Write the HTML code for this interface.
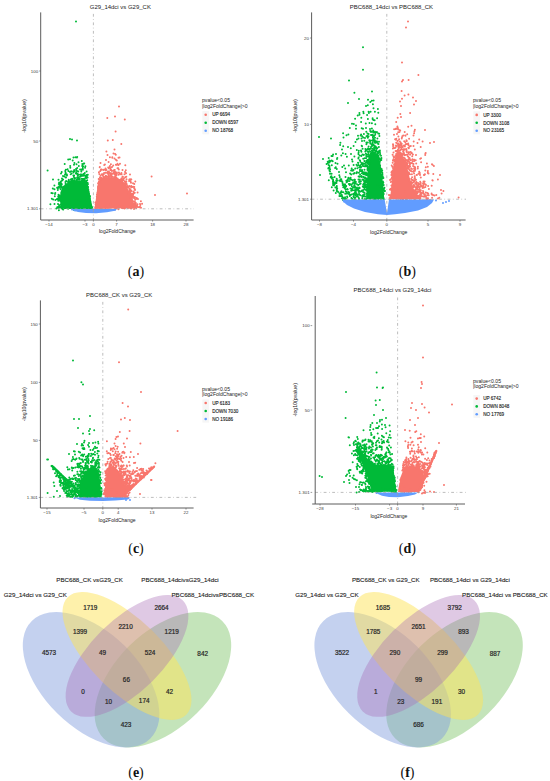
<!DOCTYPE html><html><head><meta charset="utf-8"><style>html,body{margin:0;padding:0;background:#fff;}svg{display:block;}</style></head><body>
<svg width="550" height="781" viewBox="0 0 550 781" font-family="Liberation Sans, sans-serif">
<rect width="550" height="781" fill="#fff"/>
<path d="M61.0 209.0L92.9 209.0L91.0 200.0L89.5 192.0L88.0 185.0L86.0 181.0L80.0 182.0L74.0 181.0L68.0 183.0L63.0 186.0L60.5 192.0L60.0 200.0Z" fill="#00BA38"/>
<path d="M62.9 187.9h0M87.0 200.3h0M76.0 200.3h0M76.2 181.1h0M66.0 184.0h0M86.5 182.4h0M81.6 182.6h0M86.2 199.9h0M81.2 182.0h0M88.3 189.5h0M60.7 196.8h0M60.6 189.1h0M59.2 198.4h0M81.9 181.5h0M62.4 187.2h0M75.5 200.2h0M87.7 183.0h0M88.9 193.5h0M79.1 199.8h0M76.4 199.7h0M60.6 197.5h0M68.9 183.1h0M61.5 199.0h0M80.4 200.5h0M69.1 199.2h0M72.7 181.9h0M87.9 184.3h0M83.0 180.0h0M60.1 197.1h0M59.5 200.6h0M60.6 198.9h0M60.6 189.2h0M83.9 180.9h0M82.6 182.1h0M60.3 200.5h0M82.0 176.0h0M57.8 190.0h0M84.2 163.5h0M80.3 176.4h0M71.5 180.1h0M62.0 178.4h0M57.1 187.7h0M59.1 182.4h0M61.6 186.3h0M60.5 183.8h0M87.6 177.6h0M77.5 173.8h0M65.6 172.5h0M74.4 171.0h0M82.2 166.0h0M61.7 187.4h0M72.0 208.2h0M81.5 175.8h0M79.4 182.9h0M87.4 183.8h0M61.7 172.0h0M78.5 162.2h0M68.2 159.4h0M63.0 176.0h0M83.2 180.2h0M54.5 203.9h0M78.2 182.2h0M51.4 193.1h0M61.2 201.5h0M77.1 209.4h0M78.4 178.1h0M58.2 207.9h0M75.0 209.5h0M82.9 169.7h0M77.4 179.2h0M72.5 179.1h0M61.2 199.1h0M65.8 169.8h0M77.2 168.0h0M66.0 177.5h0M79.6 178.3h0M68.2 181.4h0M85.9 175.6h0M57.5 187.5h0M76.8 180.9h0M60.0 207.8h0M77.9 178.0h0M66.1 181.1h0M61.0 186.0h0M78.3 171.6h0M61.3 207.1h0M81.3 171.6h0M58.4 198.0h0M73.4 180.9h0M66.9 174.4h0M56.3 208.6h0M67.8 207.8h0M74.4 162.9h0M53.2 199.5h0M74.1 175.4h0M54.5 189.3h0M68.0 183.0h0M83.4 179.8h0M74.0 210.0h0M81.4 182.3h0M81.8 161.1h0M60.9 181.6h0M89.4 210.1h0M90.2 201.5h0M89.6 198.6h0M65.2 171.1h0M84.3 174.9h0M82.9 167.0h0M81.5 169.5h0M82.3 163.9h0M68.6 180.7h0M71.4 207.8h0M76.4 170.4h0M50.4 204.3h0M86.6 171.5h0M84.8 180.8h0M71.6 178.9h0M58.8 184.1h0M86.4 181.8h0M77.8 175.3h0M58.3 200.8h0M72.7 160.5h0M81.9 181.1h0M84.8 178.8h0M73.5 172.5h0M82.2 179.7h0M86.8 175.1h0M61.0 197.0h0M59.3 187.5h0M74.4 180.2h0M68.4 171.1h0M58.2 196.4h0M58.5 179.8h0M65.4 174.3h0M77.6 177.6h0M84.2 207.9h0M61.8 184.2h0M81.7 178.8h0M70.7 174.2h0M87.0 186.6h0M69.0 182.5h0M78.5 181.5h0M84.0 209.1h0M81.0 181.4h0M61.0 206.4h0M63.1 179.5h0M85.1 167.8h0M69.0 181.0h0M83.2 166.5h0M61.0 173.6h0M85.4 166.3h0M78.1 176.9h0M66.3 181.2h0M57.2 207.3h0M84.0 179.5h0M70.3 167.7h0M71.6 173.5h0M54.4 185.5h0M82.0 182.3h0M67.6 169.3h0M61.7 183.9h0M82.7 179.1h0M55.4 200.1h0M78.3 208.8h0M65.4 182.0h0M58.5 194.8h0M70.0 159.2h0M75.9 173.4h0M78.8 174.8h0M79.8 179.7h0M88.2 208.0h0M59.1 205.2h0M58.4 206.7h0M65.5 184.1h0M75.9 208.7h0M87.2 180.2h0M76.2 172.5h0M61.6 192.9h0M72.3 181.8h0M84.2 178.7h0M84.8 172.9h0M83.1 207.8h0M65.0 174.7h0M83.4 179.1h0M70.5 181.4h0M76.3 169.1h0M65.6 173.6h0M62.4 179.3h0M76.4 179.6h0M60.0 195.4h0M83.9 175.5h0M70.2 165.9h0M75.0 178.0h0M74.5 171.3h0M79.9 181.8h0M71.1 171.3h0M67.0 175.4h0M77.1 177.6h0M83.1 174.8h0M64.3 176.4h0M58.0 204.1h0M70.9 179.3h0M74.2 169.9h0M86.6 180.7h0M74.3 180.4h0M59.1 206.5h0M57.8 188.6h0M74.0 164.7h0M61.3 187.4h0M81.2 174.6h0M58.9 210.3h0M80.6 174.6h0M86.6 178.1h0M77.8 171.2h0M84.9 178.9h0M85.8 175.8h0M60.6 204.6h0M60.6 185.6h0M68.8 179.7h0M86.7 175.9h0M69.9 183.1h0M83.4 174.0h0M73.4 175.4h0M65.8 185.4h0M72.1 178.7h0M89.9 195.9h0M82.8 168.5h0M87.8 174.7h0M55.3 193.0h0M76.5 164.2h0M83.9 163.4h0M82.6 165.0h0M59.3 196.2h0M52.7 193.3h0M54.8 196.3h0M51.8 198.8h0M88.4 191.6h0M71.0 180.9h0M87.2 187.1h0M70.0 172.0h0M60.8 182.4h0M64.7 163.9h0M66.4 184.4h0M62.5 209.2h0M65.8 177.4h0M68.1 208.8h0M78.2 179.5h0M72.5 179.7h0M80.1 169.6h0M88.1 187.0h0M73.9 176.9h0M77.8 209.8h0M77.4 174.6h0M72.4 207.9h0M70.1 182.5h0M59.8 186.7h0M78.5 177.1h0M74.4 182.4h0M83.8 175.7h0M57.9 199.6h0M86.5 182.9h0M62.9 187.4h0M74.5 178.3h0M84.1 181.5h0M62.1 180.4h0M68.0 207.8h0M92.2 207.2h0M73.1 171.4h0M78.8 166.0h0M82.2 182.3h0M77.2 157.1h0M85.5 176.9h0M59.5 184.6h0M90.0 196.4h0M76.0 169.0h0M75.8 181.6h0M76.0 21.6h0M70.0 139.0h0M72.0 139.5h0M77.0 140.5h0M73.5 157.4h0M75.5 157.2h0M77.0 157.6h0M47.6 170.6h0M53.0 179.4h0M52.8 188.6h0M59.0 186.6h0M59.3 206.6h0M63.3 209.6h0M55.0 194.0h0M57.0 199.0h0" stroke="#00BA38" stroke-width="2.0" stroke-linecap="round" fill="none"/>
<path d="M94.5 209.0L137.0 208.0L134.0 204.0L131.5 198.0L129.0 191.0L126.0 185.0L122.0 180.0L116.0 177.5L108.0 177.0L101.0 178.0L98.0 182.0L97.0 190.0L96.0 198.0L95.2 204.0Z" fill="#F8766D"/>
<path d="M105.8 177.1h0M97.1 202.4h0M125.9 183.8h0M116.0 177.4h0M97.4 205.0h0M98.0 187.9h0M98.1 183.2h0M106.0 177.3h0M124.0 205.9h0M116.1 207.8h0M97.0 194.5h0M98.6 183.2h0M132.1 201.4h0M105.5 205.0h0M121.8 206.5h0M95.7 202.5h0M134.1 207.3h0M121.7 181.1h0M130.7 198.4h0M121.9 207.9h0M130.4 194.3h0M119.1 205.2h0M130.5 196.1h0M132.5 203.2h0M104.8 205.5h0M135.5 207.6h0M119.7 206.2h0M133.7 204.0h0M104.0 177.2h0M95.4 202.5h0M113.5 205.9h0M116.3 178.2h0M112.6 206.9h0M110.5 204.5h0M122.5 180.9h0M131.5 195.4h0M100.5 163.0h0M99.9 177.2h0M142.1 203.8h0M103.3 170.1h0M108.4 174.7h0M116.6 174.9h0M121.3 173.2h0M132.7 202.6h0M103.7 174.6h0M133.2 186.8h0M131.3 179.5h0M97.5 195.2h0M111.9 171.0h0M102.6 174.2h0M105.1 207.5h0M125.0 182.4h0M119.2 173.5h0M118.8 169.6h0M114.3 207.4h0M140.3 205.0h0M131.0 208.6h0M134.8 203.8h0M108.3 172.2h0M134.0 209.0h0M101.4 208.2h0M98.9 172.3h0M100.6 175.5h0M123.5 183.8h0M111.2 173.2h0M130.2 192.8h0M118.9 172.5h0M134.7 192.8h0M98.1 186.5h0M95.6 204.5h0M114.5 171.4h0M115.2 207.8h0M114.8 170.1h0M130.1 191.6h0M128.9 192.3h0M130.4 180.1h0M131.0 179.2h0M99.0 181.3h0M133.1 201.3h0M128.0 208.0h0M138.0 199.1h0M98.7 179.1h0M101.9 174.2h0M106.4 169.9h0M115.9 164.7h0M99.9 178.9h0M108.4 176.8h0M124.9 181.3h0M133.8 204.9h0M125.9 181.9h0M110.3 170.0h0M130.4 196.2h0M99.7 167.2h0M100.3 170.9h0M132.0 199.7h0M127.4 187.4h0M114.6 171.5h0M133.4 203.5h0M111.4 175.0h0M131.0 195.4h0M128.4 187.3h0M130.8 181.9h0M108.6 172.2h0M121.4 173.0h0M111.3 209.7h0M129.3 191.6h0M108.7 168.2h0M126.1 173.2h0M127.3 185.9h0M108.9 171.8h0M130.5 189.5h0M122.9 176.8h0M134.5 204.5h0M136.3 208.1h0M134.3 187.0h0M132.8 204.2h0M105.2 176.8h0M101.0 169.5h0M109.9 166.1h0M101.4 177.7h0M126.3 181.6h0M115.6 172.2h0M105.5 208.6h0M109.9 157.2h0M130.3 196.5h0M117.4 207.5h0M129.5 188.8h0M134.1 205.2h0M108.9 174.1h0M112.6 176.7h0M134.3 184.1h0M118.2 168.3h0M108.2 167.6h0M114.5 170.1h0M132.0 194.8h0M134.5 204.3h0M135.7 203.4h0M113.4 170.4h0M131.9 208.1h0M117.1 178.8h0M135.3 199.4h0M109.8 209.5h0M133.4 191.5h0M126.5 179.3h0M116.9 173.6h0M121.8 180.2h0M107.7 171.7h0M99.3 174.0h0M95.5 206.9h0M96.8 196.8h0M115.7 178.3h0M124.9 183.6h0M131.6 187.3h0M128.6 186.7h0M106.7 176.2h0M134.6 206.3h0M105.9 169.4h0M110.6 175.6h0M134.7 201.3h0M130.7 186.8h0M126.3 207.1h0M122.4 207.2h0M118.7 174.7h0M127.4 207.0h0M131.8 198.9h0M115.8 174.4h0M127.8 186.3h0M122.5 170.0h0M98.2 187.6h0M130.7 207.2h0M134.9 189.3h0M105.4 170.1h0M134.7 203.1h0M134.8 197.0h0M110.9 164.2h0M136.5 205.6h0M113.8 171.0h0M129.0 192.5h0M128.4 186.4h0M105.9 175.8h0M129.1 180.9h0M129.9 207.2h0M132.8 197.5h0M129.4 186.1h0M139.4 206.9h0M137.6 192.6h0M122.5 176.8h0M126.8 185.0h0M131.4 193.7h0M140.9 201.3h0M114.3 177.2h0M103.4 176.7h0M111.5 176.6h0M105.7 209.1h0M114.1 172.0h0M108.0 207.9h0M102.8 175.5h0M104.1 173.0h0M109.7 172.5h0M134.2 188.6h0M125.2 177.3h0M127.1 187.3h0M116.9 164.8h0M130.3 197.2h0M132.3 187.1h0M126.4 183.4h0M131.3 186.1h0M121.1 179.8h0M115.6 176.3h0M119.5 157.6h0M113.2 165.6h0M133.7 193.0h0M124.5 208.6h0M109.8 166.6h0M137.5 204.3h0M136.4 198.0h0M100.2 208.4h0M120.7 179.7h0M96.1 204.7h0M130.7 196.8h0M126.3 187.2h0M107.6 173.3h0M100.8 179.7h0M129.3 179.4h0M122.5 179.3h0M103.8 169.8h0M136.4 206.1h0M109.0 178.2h0M110.2 175.8h0M112.5 173.8h0M99.4 181.9h0M104.2 165.0h0M131.7 198.9h0M110.4 168.0h0M135.8 205.3h0M121.6 174.3h0M123.9 208.0h0M103.5 209.4h0M122.5 179.5h0M118.5 165.1h0M116.9 172.6h0M105.5 168.4h0M125.6 184.7h0M135.7 202.8h0M121.8 178.3h0M115.4 176.1h0M122.7 208.1h0M108.5 171.4h0M123.9 178.4h0M105.6 172.7h0M111.3 177.6h0M103.2 178.5h0M133.0 183.3h0M136.9 198.8h0M101.6 169.5h0M115.2 153.9h0M95.3 207.7h0M115.9 159.8h0M137.1 206.1h0M141.0 207.7h0M105.9 172.7h0M112.3 157.2h0M129.5 180.8h0M115.0 209.6h0M101.7 207.8h0M130.0 174.6h0M120.7 174.3h0M126.3 176.8h0M133.1 193.8h0M136.1 205.2h0M125.3 165.3h0M123.4 180.0h0M116.1 175.6h0M118.5 157.8h0M121.3 178.6h0M123.9 184.0h0M105.9 169.2h0M131.4 191.1h0M115.9 177.5h0M100.8 170.3h0M117.4 178.5h0M114.7 174.5h0M128.7 193.8h0M135.3 181.4h0M133.2 194.5h0M129.9 179.3h0M129.5 189.4h0M118.4 209.2h0M131.8 197.7h0M97.6 192.8h0M129.3 188.8h0M124.5 174.2h0M134.2 198.2h0M112.2 176.6h0M134.2 193.0h0M109.6 176.2h0M121.7 181.3h0M104.9 164.5h0M110.4 173.8h0M113.5 173.1h0M103.4 178.2h0M99.8 166.9h0M138.0 207.1h0M124.5 208.4h0M133.1 195.9h0M135.8 206.0h0M130.9 199.1h0M129.6 207.7h0M133.1 196.3h0M131.0 182.8h0M113.7 173.5h0M132.0 193.8h0M133.9 207.4h0M129.4 190.6h0M133.9 192.2h0M125.1 208.0h0M104.0 178.0h0M111.0 169.4h0M140.0 206.9h0M116.2 208.2h0M115.0 173.5h0M134.2 192.9h0M126.6 184.1h0M137.3 198.6h0M119.0 106.4h0M107.3 117.9h0M115.0 116.4h0M124.8 119.4h0M115.6 131.6h0M107.8 140.6h0M112.8 140.0h0M121.3 144.1h0M114.5 149.6h0M106.4 151.5h0M107.5 155.0h0M113.5 153.6h0M115.8 154.8h0M112.3 157.7h0M114.5 158.5h0M106.0 160.0h0M116.8 160.6h0M120.0 163.7h0M117.5 163.8h0M108.6 162.0h0M112.0 167.0h0M117.5 168.2h0M125.8 170.2h0M125.0 172.0h0M151.6 176.5h0M155.0 195.0h0M187.0 193.4h0M135.0 190.0h0M138.0 199.0h0M140.0 204.0h0" stroke="#F8766D" stroke-width="2.0" stroke-linecap="round" fill="none"/>
<path d="M71.0 209.0L117.0 209.0L115.0 210.8L107.0 212.3L96.0 213.2L86.0 213.0L78.0 212.0L73.0 210.6Z" fill="#619CFF"/>
<path d="M72.0 209.6h0M75.0 210.5h0M115.0 209.8h0" stroke="#619CFF" stroke-width="2.0" stroke-linecap="round" fill="none"/>
<line x1="93.4" y1="13.9" x2="93.4" y2="220" stroke="#a0a0a0" stroke-width="0.7" stroke-dasharray="2.8 2.5 0.7 2.5"/>
<line x1="40.7" y1="208.8" x2="194" y2="208.8" stroke="#a0a0a0" stroke-width="0.7" stroke-dasharray="2.8 2.5 0.7 2.5"/>
<path d="M40.7 12.4V220H193.6" stroke="#5c5c5c" stroke-width="1" fill="none"/>
<line x1="39.1" y1="71" x2="40.7" y2="71" stroke="#555" stroke-width="0.6"/>
<text x="38.10" y="72.60" font-size="4.4" text-anchor="end" fill="#3a3a3a">100</text>
<line x1="39.1" y1="141" x2="40.7" y2="141" stroke="#555" stroke-width="0.6"/>
<text x="38.10" y="142.60" font-size="4.4" text-anchor="end" fill="#3a3a3a">50</text>
<line x1="39.1" y1="208.8" x2="40.7" y2="208.8" stroke="#555" stroke-width="0.6"/>
<text x="38.10" y="210.40" font-size="4.4" text-anchor="end" fill="#3a3a3a">1.301</text>
<line x1="49" y1="220" x2="49" y2="221.6" stroke="#555" stroke-width="0.6"/>
<text x="49.00" y="225.60" font-size="4.4" text-anchor="middle" fill="#3a3a3a">−14</text>
<line x1="85" y1="220" x2="85" y2="221.6" stroke="#555" stroke-width="0.6"/>
<text x="85.00" y="225.60" font-size="4.4" text-anchor="middle" fill="#3a3a3a">−3</text>
<line x1="93.4" y1="220" x2="93.4" y2="221.6" stroke="#555" stroke-width="0.6"/>
<text x="93.40" y="225.60" font-size="4.4" text-anchor="middle" fill="#3a3a3a">0</text>
<line x1="116.6" y1="220" x2="116.6" y2="221.6" stroke="#555" stroke-width="0.6"/>
<text x="116.60" y="225.60" font-size="4.4" text-anchor="middle" fill="#3a3a3a">7</text>
<line x1="152.6" y1="220" x2="152.6" y2="221.6" stroke="#555" stroke-width="0.6"/>
<text x="152.60" y="225.60" font-size="4.4" text-anchor="middle" fill="#3a3a3a">18</text>
<line x1="186" y1="220" x2="186" y2="221.6" stroke="#555" stroke-width="0.6"/>
<text x="186.00" y="225.60" font-size="4.4" text-anchor="middle" fill="#3a3a3a">28</text>
<text x="89.80" y="8.90" font-size="6.2" text-anchor="start" fill="#1a1a1a" textLength="61.10" lengthAdjust="spacingAndGlyphs">G29_14dci vs G29_CK</text>
<text x="99.00" y="233.40" font-size="5.2" text-anchor="start" fill="#1a1a1a" textLength="36.60" lengthAdjust="spacingAndGlyphs">log2FoldChange</text>
<text x="25.80" y="132.70" font-size="5.2" text-anchor="start" fill="#1a1a1a" textLength="33.50" lengthAdjust="spacingAndGlyphs" transform="rotate(-90 25.80 132.70)">-log10(pvalue)</text>
<text x="202.00" y="102.20" font-size="5.0" text-anchor="start" fill="#1a1a1a" textLength="28.00" lengthAdjust="spacingAndGlyphs">pvalue&lt;0.05</text>
<text x="202.00" y="107.80" font-size="5.0" text-anchor="start" fill="#1a1a1a" textLength="45.60" lengthAdjust="spacingAndGlyphs">|log2FoldChange|&gt;0</text>
<rect x="202.4" y="111.10000000000001" width="6.6" height="23.199999999999985" fill="#f6f6f6"/>
<circle cx="205.7" cy="114.7" r="1.3" fill="#F8766D"/>
<text x="212.20" y="116.40" font-size="4.6" text-anchor="start" fill="#1a1a1a" textLength="17.82" lengthAdjust="spacingAndGlyphs" stroke="#1a1a1a" stroke-width="0.12">UP 6694</text>
<circle cx="205.7" cy="122.7" r="1.3" fill="#00BA38"/>
<text x="212.20" y="124.40" font-size="4.6" text-anchor="start" fill="#1a1a1a" textLength="26.07" lengthAdjust="spacingAndGlyphs" stroke="#1a1a1a" stroke-width="0.12">DOWN 6597</text>
<circle cx="205.7" cy="130.7" r="1.3" fill="#619CFF"/>
<text x="212.20" y="132.40" font-size="4.6" text-anchor="start" fill="#1a1a1a" textLength="20.97" lengthAdjust="spacingAndGlyphs" stroke="#1a1a1a" stroke-width="0.12">NO 18768</text>
<path d="M366.0 199.2L384.3 199.2L383.0 185.0L381.5 172.0L380.0 162.0L378.0 155.0L374.0 152.0L370.0 156.0L368.0 168.0L367.0 185.0Z" fill="#00BA38"/>
<path d="M379.7 162.3h0M383.4 177.9h0M381.6 169.1h0M368.5 171.2h0M372.1 153.6h0M368.3 168.9h0M374.7 153.6h0M369.7 159.2h0M379.4 159.3h0M366.4 173.5h0M380.9 168.5h0M370.1 185.2h0M370.0 158.6h0M372.5 154.9h0M367.5 184.6h0M378.2 157.1h0M382.8 177.1h0M371.3 155.6h0M376.5 155.0h0M367.1 180.3h0M381.1 170.2h0M383.3 182.5h0M369.9 155.3h0M370.7 158.3h0M368.9 164.3h0M379.3 186.2h0M369.2 162.5h0M377.3 184.9h0M379.2 159.0h0M382.7 176.3h0M372.9 153.7h0M374.9 153.0h0M382.6 183.9h0M371.6 152.7h0M379.9 161.2h0M368.5 180.5h0M370.5 155.0h0M372.1 184.9h0M382.2 185.5h0M363.0 165.9h0M362.0 146.2h0M358.5 190.9h0M342.4 182.0h0M340.4 142.7h0M364.3 140.8h0M346.8 182.2h0M361.0 167.6h0M367.5 133.5h0M348.7 178.3h0M359.8 160.3h0M364.9 189.6h0M383.6 193.6h0M356.6 193.4h0M366.5 174.5h0M355.1 118.7h0M370.2 151.6h0M379.3 163.8h0M373.5 132.4h0M368.9 149.4h0M370.8 140.4h0M367.9 166.7h0M354.7 199.8h0M379.9 159.3h0M374.1 147.4h0M345.9 198.8h0M366.2 180.3h0M370.0 198.0h0M379.9 150.5h0M361.6 176.6h0M361.7 128.3h0M357.1 196.0h0M350.8 148.3h0M382.4 174.6h0M364.5 169.7h0M335.5 163.1h0M375.6 154.2h0M365.2 184.3h0M372.9 137.8h0M377.1 118.3h0M351.1 184.5h0M368.5 161.5h0M375.0 131.7h0M367.1 115.0h0M381.4 158.2h0M365.4 149.1h0M358.3 185.0h0M354.7 173.0h0M372.7 143.4h0M353.8 123.9h0M377.3 148.3h0M365.6 177.8h0M365.4 164.9h0M378.5 143.9h0M358.2 162.9h0M366.5 162.8h0M334.6 177.1h0M374.5 140.3h0M336.5 182.9h0M358.4 158.6h0M343.5 137.5h0M367.3 159.9h0M359.4 191.1h0M379.3 163.6h0M366.4 144.3h0M359.9 183.9h0M364.5 187.8h0M376.5 141.5h0M365.7 189.5h0M373.6 199.3h0M380.1 153.9h0M345.2 193.8h0M362.4 179.4h0M382.4 197.9h0M363.1 195.0h0M356.4 189.9h0M353.9 197.3h0M368.4 153.9h0M374.9 199.5h0M342.3 166.9h0M367.5 183.7h0M366.3 154.4h0M381.0 155.8h0M360.0 169.6h0M367.5 170.0h0M356.8 150.0h0M361.2 164.5h0M363.9 154.8h0M377.4 157.3h0M367.6 178.8h0M365.2 173.5h0M371.9 128.5h0M383.3 197.5h0M366.4 190.6h0M382.8 188.6h0M368.8 163.2h0M365.6 187.0h0M371.6 144.5h0M372.7 134.8h0M366.0 172.4h0M365.3 184.2h0M372.3 154.2h0M373.3 144.7h0M378.0 198.6h0M380.9 177.8h0M361.3 117.7h0M364.5 200.2h0M354.9 179.8h0M362.9 171.9h0M364.8 163.5h0M363.7 179.6h0M363.6 184.1h0M358.9 172.8h0M376.0 142.7h0M361.2 151.4h0M357.7 115.5h0M359.5 114.8h0M342.7 184.9h0M382.2 172.5h0M379.0 141.8h0M358.6 197.5h0M368.0 148.5h0M370.2 131.1h0M332.7 161.2h0M366.0 172.6h0M343.2 146.2h0M361.1 164.4h0M358.6 176.6h0M374.4 148.7h0M352.6 183.8h0M357.2 165.8h0M366.8 187.2h0M370.3 101.9h0M365.1 186.3h0M366.9 180.3h0M372.1 148.7h0M363.8 183.7h0M355.6 194.2h0M354.7 185.9h0M383.7 185.1h0M380.1 165.5h0M332.6 156.0h0M356.2 188.1h0M353.2 193.9h0M373.6 140.2h0M359.1 182.1h0M377.5 155.3h0M364.4 184.1h0M355.2 168.4h0M365.7 185.9h0M349.8 183.9h0M381.4 158.0h0M354.3 187.8h0M381.1 159.8h0M366.9 175.3h0M358.6 191.2h0M355.8 183.6h0M372.8 145.5h0M352.0 189.4h0M354.3 179.7h0M364.5 166.2h0M353.5 170.1h0M333.1 179.8h0M359.0 198.4h0M362.1 170.8h0M353.7 194.8h0M362.5 164.6h0M337.6 180.6h0M363.8 174.1h0M355.8 191.7h0M367.8 137.7h0M379.3 158.3h0M360.9 181.2h0M345.6 154.1h0M362.3 195.7h0M348.4 134.4h0M345.9 191.4h0M372.5 142.7h0M355.7 181.8h0M333.6 190.6h0M355.5 142.0h0M351.1 170.5h0M379.7 167.7h0M342.9 153.2h0M365.8 166.3h0M372.2 151.3h0M364.5 194.8h0M359.5 181.4h0M369.6 159.2h0M369.3 158.2h0M380.4 170.7h0M358.8 150.7h0M343.0 197.4h0M371.6 146.5h0M378.7 162.3h0M383.9 190.9h0M374.2 132.6h0M384.1 188.8h0M366.9 186.8h0M352.0 159.4h0M379.1 162.5h0M355.0 198.3h0M382.9 181.5h0M359.6 155.4h0M347.6 180.8h0M358.3 189.4h0M333.0 185.0h0M362.3 198.6h0M370.2 161.7h0M373.6 150.0h0M367.9 118.9h0M360.1 160.7h0M367.7 151.7h0M382.4 172.9h0M330.1 169.2h0M362.8 196.2h0M368.4 173.0h0M367.7 182.3h0M363.3 137.4h0M366.4 142.5h0M368.9 113.1h0M383.0 195.3h0M361.2 166.9h0M376.6 147.5h0M373.1 139.8h0M330.4 161.2h0M365.6 184.3h0M354.9 194.7h0M356.4 193.2h0M346.8 192.0h0M373.3 151.9h0M341.5 191.3h0M362.9 164.4h0M366.5 193.7h0M337.3 157.9h0M371.4 131.6h0M354.9 186.4h0M364.7 158.2h0M354.1 182.6h0M355.1 187.1h0M378.7 157.8h0M358.4 153.9h0M374.9 141.3h0M383.0 189.0h0M379.4 136.0h0M348.4 177.8h0M367.1 187.8h0M365.0 186.6h0M368.2 137.0h0M376.2 150.4h0M351.9 186.2h0M359.4 176.8h0M378.4 151.3h0M353.1 187.5h0M361.1 134.6h0M369.3 156.5h0M364.6 184.4h0M364.8 183.2h0M371.8 150.8h0M341.7 192.2h0M346.0 172.3h0M369.5 156.1h0M363.2 174.1h0M366.0 154.1h0M372.8 136.0h0M329.3 160.5h0M372.7 119.3h0M360.3 161.7h0M382.1 176.4h0M354.7 192.5h0M372.5 151.0h0M351.8 189.5h0M355.4 197.3h0M367.9 190.8h0M355.0 183.7h0M368.6 134.1h0M365.6 178.7h0M363.1 191.9h0M361.5 175.9h0M347.6 179.7h0M379.5 161.4h0M349.3 192.5h0M365.2 196.4h0M374.4 145.6h0M378.3 152.4h0M354.4 190.2h0M356.4 188.0h0M354.2 193.8h0M359.9 170.9h0M378.2 133.5h0M362.4 196.9h0M354.6 181.5h0M356.9 172.3h0M357.4 168.2h0M347.9 181.0h0M376.7 148.0h0M338.2 192.0h0M370.3 143.6h0M372.9 104.3h0M367.1 162.1h0M373.5 149.1h0M359.4 112.9h0M367.7 168.5h0M381.5 181.2h0M375.4 151.3h0M364.5 185.9h0M368.1 172.9h0M367.2 135.8h0M355.8 190.6h0M364.1 181.7h0M365.4 165.3h0M366.9 188.7h0M369.3 149.0h0M375.6 146.6h0M363.2 184.6h0M361.8 163.1h0M370.8 156.0h0M346.9 156.8h0M358.5 165.0h0M336.3 180.4h0M375.0 137.7h0M361.7 145.7h0M362.2 136.2h0M350.5 195.0h0M364.5 192.8h0M361.3 171.0h0M371.0 132.1h0M357.0 187.4h0M351.9 188.8h0M331.8 165.2h0M368.6 146.6h0M367.1 196.0h0M351.2 190.7h0M345.2 168.4h0M369.4 157.2h0M351.0 174.2h0M359.7 188.0h0M378.9 147.1h0M360.6 135.6h0M358.5 189.3h0M358.5 179.5h0M378.3 112.8h0M367.9 190.2h0M347.3 197.5h0M365.1 196.8h0M367.0 178.7h0M360.3 195.3h0M362.0 170.1h0M355.1 194.0h0M382.8 189.6h0M373.5 198.4h0M365.9 153.8h0M380.9 175.8h0M364.7 172.6h0M335.8 192.9h0M364.1 192.7h0M353.2 182.5h0M355.1 181.9h0M377.9 108.9h0M366.4 162.1h0M356.6 194.1h0M351.2 174.6h0M364.4 183.1h0M363.6 176.7h0M379.2 133.7h0M359.8 179.4h0M363.2 158.8h0M343.1 133.2h0M337.5 163.7h0M358.6 152.5h0M368.6 136.3h0M367.1 184.6h0M373.8 145.2h0M366.9 179.4h0M368.9 160.3h0M367.4 163.0h0M366.4 190.0h0M366.5 136.3h0M368.2 160.4h0M330.0 173.8h0M363.3 111.7h0M378.2 199.0h0M359.0 199.1h0M357.5 196.3h0M362.3 196.1h0M350.6 177.7h0M373.4 120.1h0M353.6 164.9h0M353.6 182.7h0M371.9 135.0h0M367.6 169.4h0M376.3 198.7h0M363.2 187.1h0M381.7 183.1h0M358.0 162.8h0M384.5 199.7h0M350.1 173.5h0M343.2 187.2h0M331.6 160.6h0M369.5 149.8h0M378.1 153.3h0M363.6 113.3h0M366.4 173.7h0M375.6 147.8h0M346.2 185.9h0M374.9 141.4h0M368.6 152.0h0M382.2 175.8h0M375.5 133.1h0M365.8 150.5h0M382.4 188.5h0M346.6 182.2h0M352.0 123.8h0M372.6 142.5h0M382.9 183.7h0M348.9 184.1h0M352.8 170.7h0M363.4 177.1h0M365.1 180.9h0M352.5 161.4h0M370.6 111.7h0M365.7 162.5h0M368.4 176.0h0M377.1 142.1h0M383.4 193.1h0M345.0 184.2h0M379.1 161.8h0M359.2 167.2h0M367.8 154.6h0M365.3 151.5h0M366.7 149.8h0M371.8 100.8h0M346.3 180.8h0M382.5 178.6h0M349.5 181.0h0M358.0 135.7h0M359.2 194.4h0M345.5 177.0h0M361.0 150.4h0M374.7 146.5h0M378.7 155.5h0M354.2 185.5h0M374.5 150.3h0M382.0 170.8h0M339.9 194.1h0M360.6 183.5h0M374.9 132.3h0M351.2 179.4h0M368.0 99.8h0M366.5 190.4h0M378.4 156.8h0M375.7 142.0h0M350.1 179.2h0M336.7 178.7h0M364.1 172.6h0M384.4 187.7h0M359.1 187.4h0M364.4 161.1h0M374.3 141.4h0M353.6 146.0h0M374.9 142.7h0M374.9 140.2h0M356.9 139.4h0M381.8 176.4h0M361.9 163.8h0M367.4 169.2h0M367.0 182.1h0M371.9 123.3h0M380.0 167.2h0M344.0 165.5h0M370.0 156.3h0M361.1 122.0h0M361.3 156.1h0M374.5 131.9h0M349.8 128.1h0M340.7 181.1h0M369.3 140.3h0M352.3 170.4h0M377.7 152.8h0M353.9 186.9h0M345.4 186.2h0M339.7 180.8h0M361.9 173.2h0M367.2 174.7h0M347.1 196.4h0M352.5 169.9h0M366.2 157.9h0M350.2 179.3h0M363.9 173.6h0M385.0 191.1h0M376.9 131.9h0M328.7 157.9h0M355.8 189.6h0M367.8 105.2h0M368.7 161.5h0M369.1 170.3h0M383.4 198.2h0M360.0 165.9h0M373.2 130.6h0M377.8 156.5h0M363.0 190.3h0M382.7 182.8h0M336.4 181.4h0M369.6 159.6h0M357.0 172.3h0M383.3 200.0h0M380.9 199.4h0M346.5 135.2h0M357.0 188.7h0M370.2 148.8h0M348.8 165.5h0M364.3 189.2h0M367.2 175.0h0M381.3 175.1h0M365.8 149.4h0M366.5 162.2h0M370.0 163.9h0M367.8 178.6h0M357.7 194.9h0M331.8 187.2h0M343.4 192.3h0M365.3 174.7h0M362.3 196.2h0M379.9 152.5h0M383.6 194.2h0M381.1 169.5h0M383.1 185.4h0M370.1 200.2h0M360.1 174.4h0M377.4 138.6h0M342.9 199.9h0M366.3 131.8h0M368.7 159.5h0M375.2 134.7h0M374.9 111.8h0M353.5 196.5h0M351.7 168.4h0M373.6 140.0h0M355.3 199.9h0M363.8 154.9h0M359.0 193.0h0M364.9 199.0h0M367.9 149.4h0M366.2 199.3h0M362.0 190.4h0M356.0 125.4h0M367.0 179.3h0M380.5 171.7h0M380.3 171.7h0M356.6 189.7h0M363.2 179.9h0M366.2 155.9h0M373.5 138.2h0M333.1 154.4h0M349.7 185.0h0M364.6 184.5h0M377.1 152.0h0M341.3 155.5h0M352.6 180.2h0M361.4 151.8h0M382.1 187.4h0M363.3 196.3h0M365.4 177.7h0M369.4 149.0h0M381.3 160.1h0M354.1 173.6h0M361.2 191.3h0M362.4 154.5h0M378.5 156.6h0M379.8 151.2h0M377.2 153.4h0M369.2 154.9h0M365.9 150.7h0M374.3 140.5h0M363.0 163.2h0M340.1 144.9h0M356.7 173.2h0M355.5 195.1h0M367.6 167.4h0M328.8 180.2h0M363.9 133.9h0M346.1 186.6h0M363.6 163.6h0M359.8 176.8h0M367.0 165.0h0M376.5 149.0h0M368.5 159.9h0M373.5 108.3h0M352.7 190.3h0M382.2 170.5h0M367.2 186.9h0M358.3 190.8h0M367.8 142.5h0M358.6 157.4h0M383.9 190.2h0M348.1 179.0h0M361.7 176.9h0M372.5 140.6h0M377.6 153.7h0M366.0 182.1h0M353.3 173.7h0M358.2 189.2h0M362.8 186.4h0M370.7 153.5h0M368.6 149.6h0M356.5 164.7h0M367.8 156.6h0M357.3 184.5h0M355.9 182.1h0M366.9 166.0h0M354.8 187.0h0M350.5 188.5h0M360.5 191.5h0M375.1 152.5h0M345.1 197.2h0M362.6 148.8h0M358.7 188.2h0M378.0 143.8h0M383.6 190.5h0M366.5 160.8h0M356.9 196.2h0M364.6 177.7h0M329.4 162.6h0M336.8 190.9h0M332.7 177.7h0M334.3 183.9h0M335.4 187.5h0M345.0 199.2h0M330.7 177.2h0M342.9 198.2h0M342.8 198.2h0M336.7 191.0h0M330.0 171.5h0M336.8 189.4h0M329.5 168.6h0M335.1 182.9h0M342.3 196.7h0M339.7 193.5h0M333.6 182.4h0M332.9 182.9h0M334.4 183.3h0M331.0 176.4h0M327.7 161.8h0M336.7 187.0h0M340.6 196.1h0M340.6 193.6h0M328.5 168.0h0M342.1 196.3h0M340.5 192.5h0M329.5 166.0h0M333.9 185.3h0M328.7 168.3h0M326.6 164.0h0M329.5 167.4h0M341.8 195.1h0M339.5 193.8h0M332.9 181.4h0M328.9 162.4h0M328.6 165.1h0M337.7 191.5h0M329.1 165.6h0M331.7 178.4h0M329.4 167.8h0M342.0 198.2h0M328.3 168.4h0M334.8 183.9h0M332.0 177.9h0M331.4 176.2h0M329.5 170.4h0M337.6 191.6h0M344.4 198.0h0M333.1 180.5h0M341.3 196.1h0M337.2 188.4h0M334.0 185.4h0M334.1 184.4h0M333.6 181.7h0M336.6 187.6h0M331.6 173.7h0M339.4 196.1h0M336.8 186.1h0M329.5 170.7h0M347.3 189.1h0M335.8 167.3h0M344.3 187.5h0M344.8 184.5h0M335.1 167.9h0M339.3 175.3h0M346.7 193.4h0M343.2 184.2h0M351.5 198.1h0M344.5 186.8h0M349.0 192.6h0M344.4 185.1h0M345.7 189.4h0M343.5 185.5h0M341.8 181.0h0M349.8 195.9h0M352.2 198.7h0M348.6 192.1h0M345.2 187.2h0M345.1 188.4h0M345.1 185.1h0M351.5 194.5h0M342.5 183.0h0M344.9 188.5h0M341.3 179.2h0M348.4 193.7h0M354.3 199.4h0M336.8 169.1h0M351.4 198.1h0M340.4 179.2h0M339.0 172.0h0M339.8 176.9h0M348.5 193.0h0M349.5 194.6h0M347.7 189.6h0M363.0 47.2h0M363.0 69.8h0M349.0 80.4h0M354.4 92.8h0M372.0 91.4h0M359.0 99.0h0M373.6 100.6h0M348.0 103.0h0M366.0 106.0h0M368.6 111.8h0M372.6 118.3h0M374.6 120.3h0M365.8 123.5h0M369.5 123.0h0M375.3 124.3h0M356.0 128.8h0M363.0 128.8h0M366.0 128.0h0M370.0 129.0h0M373.0 132.0h0M371.0 135.0h0M374.0 136.0h0M358.5 138.5h0M361.5 138.5h0M365.0 138.0h0M362.0 141.0h0M377.0 141.5h0M370.0 142.0h0M371.0 147.0h0M348.0 147.0h0M342.0 149.6h0M351.0 154.0h0M354.4 156.6h0M331.5 156.0h0M336.0 154.0h0M337.0 159.0h0M319.0 137.0h0M331.0 138.6h0M323.0 159.0h0M328.0 163.0h0M320.0 175.0h0" stroke="#00BA38" stroke-width="2.0" stroke-linecap="round" fill="none"/>
<path d="M390.0 199.2L422.0 199.2L416.0 193.0L411.0 185.0L408.5 172.0L404.5 160.0L401.0 152.0L397.5 151.0L395.0 158.0L393.0 170.0L391.5 185.0Z" fill="#F8766D"/>
<path d="M396.6 151.0h0M404.4 160.2h0M395.6 155.6h0M392.9 167.1h0M409.8 183.4h0M402.5 155.1h0M416.3 196.0h0M417.3 193.4h0M400.3 150.6h0M393.6 186.8h0M419.6 198.4h0M392.5 172.5h0M409.9 181.2h0M392.4 166.7h0M412.2 186.8h0M393.8 175.7h0M411.1 183.3h0M406.0 192.0h0M407.2 168.4h0M393.3 170.8h0M394.4 165.5h0M413.3 187.2h0M393.9 157.5h0M405.5 165.6h0M416.2 191.6h0M419.8 199.0h0M407.3 168.4h0M420.5 197.6h0M396.3 154.2h0M407.9 172.2h0M412.7 188.1h0M407.2 166.8h0M398.3 188.3h0M405.0 191.6h0M414.8 190.8h0M398.8 189.1h0M393.4 169.2h0M409.1 173.0h0M416.6 193.0h0M411.1 185.8h0M419.5 187.2h0M392.5 181.7h0M417.7 185.8h0M425.2 155.0h0M407.2 134.2h0M403.1 199.8h0M391.9 181.3h0M410.1 154.8h0M424.3 183.4h0M393.5 147.5h0M390.9 188.8h0M417.8 168.5h0M412.0 171.4h0M423.5 196.4h0M400.7 145.0h0M406.9 163.5h0M408.0 161.0h0M402.8 197.9h0M425.4 153.5h0M399.2 146.7h0M401.5 146.3h0M412.7 198.0h0M414.4 191.4h0M424.9 194.4h0M420.5 186.5h0M420.2 158.7h0M399.8 144.8h0M392.7 177.0h0M393.1 168.5h0M396.7 198.1h0M409.1 169.5h0M408.3 152.3h0M393.3 145.2h0M410.7 151.9h0M406.4 149.8h0M423.9 175.0h0M412.4 179.9h0M395.8 128.9h0M393.2 159.9h0M423.4 185.3h0M397.0 128.7h0M408.4 153.7h0M395.6 128.9h0M398.0 144.9h0M408.5 160.0h0M390.0 180.0h0M406.8 141.1h0M410.8 160.2h0M418.0 190.0h0M412.5 187.9h0M413.5 146.1h0M392.6 154.8h0M416.8 189.5h0M391.3 198.3h0M420.7 147.1h0M393.0 178.0h0M424.9 196.4h0M400.2 130.6h0M438.0 198.6h0M409.6 169.8h0M393.5 152.4h0M419.2 195.4h0M420.9 193.7h0M403.5 149.3h0M401.8 146.1h0M413.8 166.6h0M412.6 161.2h0M408.3 166.7h0M441.6 193.5h0M401.7 143.7h0M398.2 132.2h0M414.5 178.5h0M426.9 163.4h0M394.6 159.8h0M420.2 184.3h0M407.2 164.5h0M412.1 182.4h0M393.2 175.7h0M393.4 171.1h0M398.3 147.0h0M422.6 187.9h0M425.8 192.6h0M425.4 186.9h0M416.0 154.9h0M392.7 167.0h0M425.9 196.5h0M395.7 128.7h0M416.0 179.8h0M393.0 171.0h0M393.2 146.4h0M398.7 146.7h0M399.1 139.2h0M396.0 145.8h0M392.8 180.0h0M417.3 186.0h0M391.4 185.4h0M427.4 193.0h0M417.5 143.0h0M398.4 129.4h0M398.0 149.4h0M413.7 184.9h0M404.2 141.3h0M415.7 160.3h0M401.8 138.5h0M408.8 172.8h0M428.9 189.1h0M396.6 151.5h0M408.8 166.6h0M409.9 170.6h0M405.3 135.6h0M409.7 158.2h0M404.8 145.5h0M413.6 185.8h0M409.1 138.7h0M403.0 153.9h0M427.1 195.3h0M414.9 178.8h0M417.4 192.6h0M408.4 166.1h0M405.5 135.8h0M388.9 195.0h0M404.4 163.2h0M406.7 152.1h0M425.0 195.2h0M407.5 166.9h0M414.9 180.6h0M408.8 148.3h0M400.6 143.4h0M397.6 141.0h0M390.4 189.8h0M418.5 173.7h0M411.6 200.6h0M395.6 159.3h0M392.5 186.4h0M421.0 158.3h0M408.7 173.9h0M408.3 166.2h0M425.8 167.2h0M409.1 152.3h0M421.1 162.3h0M406.6 199.3h0M414.1 168.8h0M395.0 148.0h0M406.4 151.1h0M408.2 143.6h0M413.1 182.6h0M419.6 189.8h0M405.8 159.8h0M402.8 146.9h0M416.1 188.4h0M420.0 175.0h0M415.1 187.1h0M423.4 184.4h0M406.2 149.1h0M389.6 198.1h0M398.3 143.8h0M398.1 144.9h0M403.9 145.5h0M431.7 185.8h0M412.5 159.3h0M406.4 140.3h0M420.3 194.2h0M392.9 160.4h0M420.4 184.9h0M414.1 173.5h0M420.6 194.3h0M423.3 191.8h0M402.0 155.2h0M397.1 143.2h0M390.8 182.0h0M396.0 145.4h0M399.0 148.0h0M390.0 195.1h0M393.2 169.7h0M431.7 194.5h0M390.8 195.8h0M393.0 145.0h0M432.4 180.3h0M417.1 198.3h0M420.4 192.4h0M395.3 159.6h0M413.7 190.5h0M395.1 139.2h0M393.4 169.5h0M393.5 156.6h0M399.9 150.3h0M389.9 189.5h0M424.1 187.5h0M412.2 156.2h0M395.1 164.8h0M419.9 190.7h0M396.0 139.8h0M410.1 183.9h0M414.7 176.2h0M415.3 169.3h0M406.0 199.6h0M406.8 144.1h0M423.1 196.5h0M395.6 147.4h0M396.2 198.8h0M424.6 196.5h0M405.8 144.2h0M408.2 126.8h0M401.0 117.0h0M414.5 199.3h0M425.3 170.6h0M403.3 135.4h0M428.0 198.2h0M397.0 151.4h0M404.6 161.0h0M413.5 135.6h0M414.0 170.8h0M407.7 144.2h0M437.9 179.6h0M408.0 174.2h0M391.4 172.3h0M410.1 166.6h0M413.8 191.7h0M400.3 147.0h0M400.8 142.5h0M430.0 200.1h0M439.3 197.7h0M432.1 197.8h0M398.4 143.6h0M427.9 170.9h0M405.6 162.3h0M398.4 136.4h0M399.7 145.2h0M425.1 196.7h0M391.5 181.6h0M418.9 189.7h0M407.4 161.2h0M410.1 112.9h0M417.9 196.1h0M422.0 186.2h0M399.9 141.6h0M413.6 180.4h0M420.5 193.6h0M403.1 151.5h0M423.0 183.3h0M420.8 177.6h0M413.9 166.4h0M423.5 181.4h0M414.2 161.0h0M413.7 141.6h0M392.5 170.7h0M409.1 157.7h0M414.3 159.8h0M421.0 192.8h0M397.0 134.1h0M416.2 183.6h0M420.2 189.9h0M422.6 141.5h0M409.6 146.5h0M402.0 137.2h0M396.2 142.7h0M408.0 167.3h0M403.4 149.8h0M412.1 177.3h0M428.0 173.2h0M402.9 198.0h0M410.9 181.9h0M428.2 193.5h0M406.6 198.1h0M415.2 183.2h0M412.3 187.8h0M406.9 162.3h0M428.5 173.6h0M417.4 189.0h0M418.3 184.6h0M410.0 174.3h0M396.3 138.7h0M396.2 154.1h0M402.2 146.7h0M403.8 150.4h0M415.1 167.8h0M410.0 162.7h0M428.7 195.2h0M404.4 154.9h0M416.6 175.1h0M423.2 192.7h0M421.3 185.4h0M391.6 174.3h0M411.8 152.9h0M397.4 127.6h0M411.2 179.1h0M396.3 146.1h0M404.7 131.9h0M420.7 185.4h0M405.3 164.6h0M407.5 154.5h0M417.3 193.4h0M416.9 174.9h0M424.4 175.0h0M408.9 169.1h0M404.0 153.5h0M415.6 190.0h0M397.9 128.1h0M393.9 168.7h0M412.0 169.1h0M416.2 187.3h0M415.0 170.8h0M410.8 146.0h0M397.7 117.7h0M434.4 195.6h0M392.5 174.7h0M413.9 181.6h0M392.7 162.7h0M413.1 165.9h0M416.6 192.3h0M401.6 147.7h0M391.9 171.7h0M407.1 165.6h0M403.9 157.6h0M410.3 154.3h0M414.2 181.6h0M428.1 186.0h0M413.4 190.0h0M413.7 171.7h0M390.1 199.1h0M394.5 165.0h0M414.8 149.5h0M417.5 191.8h0M411.8 162.9h0M404.7 162.0h0M409.2 179.0h0M397.7 152.7h0M418.5 196.6h0M432.0 164.3h0M401.8 153.4h0M419.8 174.0h0M395.9 158.9h0M415.3 192.6h0M410.9 198.0h0M414.3 185.7h0M426.0 185.1h0M405.2 155.1h0M404.9 146.5h0M405.2 161.2h0M427.8 166.7h0M433.0 195.1h0M421.3 192.9h0M427.8 172.4h0M399.8 130.2h0M394.5 165.5h0M407.7 160.3h0M421.8 193.0h0M417.4 193.2h0M398.3 146.5h0M390.4 189.5h0M443.4 191.1h0M398.3 198.5h0M420.6 192.4h0M419.7 197.2h0M424.6 181.6h0M404.5 149.2h0M400.3 114.0h0M414.8 177.4h0M431.6 193.6h0M403.8 198.2h0M411.0 170.9h0M413.5 164.0h0M416.2 163.5h0M397.8 150.3h0M402.3 149.4h0M406.6 150.3h0M391.4 175.1h0M397.1 150.9h0M401.0 144.0h0M417.7 187.6h0M392.9 148.5h0M403.9 161.0h0M394.9 156.9h0M407.2 165.2h0M427.7 199.6h0M404.9 159.9h0M416.4 187.5h0M424.0 194.0h0M409.3 162.0h0M402.5 136.1h0M418.7 191.7h0M408.6 166.7h0M394.0 134.7h0M433.3 174.0h0M419.2 139.6h0M408.3 147.7h0M411.2 168.4h0M418.8 183.4h0M409.9 164.7h0M408.3 159.6h0M392.3 176.4h0M394.1 164.4h0M394.1 129.2h0M391.3 178.7h0M414.1 133.3h0M393.3 179.2h0M409.0 198.2h0M403.7 152.6h0M396.2 121.9h0M406.5 154.8h0M410.9 181.3h0M423.0 190.9h0M417.9 166.7h0M412.9 154.4h0M415.2 190.1h0M393.7 174.1h0M426.2 199.0h0M406.3 165.6h0M393.7 147.9h0M419.6 187.9h0M392.4 176.8h0M420.8 194.8h0M415.2 179.9h0M420.2 181.8h0M393.7 168.8h0M414.6 185.5h0M415.1 167.2h0M404.8 158.2h0M415.4 198.7h0M415.7 183.8h0M410.8 183.7h0M395.2 160.9h0M419.7 189.9h0M420.8 183.1h0M395.6 151.1h0M411.5 125.7h0M394.1 169.0h0M418.5 185.9h0M432.7 180.5h0M401.8 145.6h0M412.6 163.6h0M408.1 156.6h0M394.2 161.1h0M400.9 149.3h0M407.8 156.5h0M391.7 188.5h0M433.9 165.9h0M418.2 191.7h0M409.7 159.7h0M415.9 189.8h0M416.4 181.9h0M415.8 193.0h0M416.9 185.0h0M418.5 196.5h0M423.3 186.5h0M404.9 163.1h0M420.5 191.5h0M421.5 196.1h0M420.8 190.2h0M411.9 183.5h0M425.7 152.9h0M432.5 164.7h0M417.7 192.2h0M399.5 150.5h0M391.9 177.8h0M409.6 198.7h0M407.8 163.2h0M393.0 144.2h0M419.5 189.4h0M411.9 174.2h0M399.5 132.1h0M402.3 155.0h0M409.9 163.5h0M391.7 165.4h0M418.0 183.0h0M408.8 167.8h0M392.0 178.4h0M412.8 180.3h0M390.4 196.8h0M420.6 196.3h0M417.6 185.5h0M418.9 195.8h0M418.7 184.1h0M410.3 163.4h0M397.8 140.8h0M405.8 164.2h0M419.7 172.8h0M421.7 193.8h0M402.3 199.0h0M405.3 142.2h0M424.9 174.2h0M425.5 184.6h0M414.9 129.8h0M395.0 161.0h0M407.2 198.0h0M436.3 195.0h0M413.3 185.8h0M409.0 180.3h0M426.7 198.0h0M393.5 159.3h0M397.4 126.6h0M414.4 131.2h0M406.9 198.9h0M400.4 200.1h0M408.6 178.6h0M409.4 169.8h0M406.3 160.1h0M423.7 187.5h0M419.2 171.7h0M411.5 185.0h0M408.5 145.1h0M412.6 188.4h0M398.8 151.9h0M408.0 21.6h0M406.0 27.6h0M402.0 62.4h0M418.4 75.0h0M402.0 81.6h0M403.0 80.0h0M408.6 80.0h0M401.6 91.0h0M404.6 95.6h0M408.4 94.4h0M413.0 97.6h0M402.0 98.8h0M416.0 101.0h0M400.0 101.6h0M414.0 104.4h0M401.0 106.0h0M458.6 197.6h0M434.0 142.0h0M440.0 175.0h0M430.0 143.0h0M425.0 130.0h0M441.0 190.0h0" stroke="#F8766D" stroke-width="2.0" stroke-linecap="round" fill="none"/>
<path d="M342.0 199.6L434.0 199.6L432.0 203.0L427.0 207.0L418.0 210.5L405.0 213.0L395.0 214.3L387.0 215.0L378.0 214.3L365.0 212.0L354.0 208.5L347.0 205.0L343.0 201.5Z" fill="#619CFF"/>
<path d="M443.0 203.0h0M446.0 202.0h0M449.0 201.0h0M436.0 200.5h0M344.0 201.5h0" stroke="#619CFF" stroke-width="2.0" stroke-linecap="round" fill="none"/>
<path d="M384.6 199.2L389.0 199.2L387.0 213.0Z" fill="#fff"/>
<line x1="386.8" y1="13.9" x2="386.8" y2="220" stroke="#a0a0a0" stroke-width="0.7" stroke-dasharray="2.8 2.5 0.7 2.5"/>
<line x1="311.6" y1="199.2" x2="466" y2="199.2" stroke="#a0a0a0" stroke-width="0.7" stroke-dasharray="2.8 2.5 0.7 2.5"/>
<path d="M311.6 12.4V220H465.6" stroke="#5c5c5c" stroke-width="1" fill="none"/>
<line x1="310.0" y1="38" x2="311.6" y2="38" stroke="#555" stroke-width="0.6"/>
<text x="309.00" y="39.60" font-size="4.4" text-anchor="end" fill="#3a3a3a">20</text>
<line x1="310.0" y1="124.4" x2="311.6" y2="124.4" stroke="#555" stroke-width="0.6"/>
<text x="309.00" y="126.00" font-size="4.4" text-anchor="end" fill="#3a3a3a">10</text>
<line x1="310.0" y1="199.2" x2="311.6" y2="199.2" stroke="#555" stroke-width="0.6"/>
<text x="309.00" y="200.80" font-size="4.4" text-anchor="end" fill="#3a3a3a">1.301</text>
<line x1="319.5" y1="220" x2="319.5" y2="221.6" stroke="#555" stroke-width="0.6"/>
<text x="319.50" y="225.60" font-size="4.4" text-anchor="middle" fill="#3a3a3a">−8</text>
<line x1="353.5" y1="220" x2="353.5" y2="221.6" stroke="#555" stroke-width="0.6"/>
<text x="353.50" y="225.60" font-size="4.4" text-anchor="middle" fill="#3a3a3a">−4</text>
<line x1="386.8" y1="220" x2="386.8" y2="221.6" stroke="#555" stroke-width="0.6"/>
<text x="386.80" y="225.60" font-size="4.4" text-anchor="middle" fill="#3a3a3a">0</text>
<line x1="428" y1="220" x2="428" y2="221.6" stroke="#555" stroke-width="0.6"/>
<text x="428.00" y="225.60" font-size="4.4" text-anchor="middle" fill="#3a3a3a">5</text>
<line x1="460" y1="220" x2="460" y2="221.6" stroke="#555" stroke-width="0.6"/>
<text x="460.00" y="225.60" font-size="4.4" text-anchor="middle" fill="#3a3a3a">9</text>
<text x="349.80" y="9.00" font-size="6.2" text-anchor="start" fill="#1a1a1a" textLength="83.30" lengthAdjust="spacingAndGlyphs">PBC688_14dci vs PBC688_CK</text>
<text x="370.00" y="233.80" font-size="5.2" text-anchor="start" fill="#1a1a1a" textLength="37.40" lengthAdjust="spacingAndGlyphs">log2FoldChange</text>
<text x="297.00" y="132.70" font-size="5.2" text-anchor="start" fill="#1a1a1a" textLength="33.50" lengthAdjust="spacingAndGlyphs" transform="rotate(-90 297.00 132.70)">-log10(pvalue)</text>
<text x="473.00" y="102.40" font-size="5.0" text-anchor="start" fill="#1a1a1a" textLength="28.00" lengthAdjust="spacingAndGlyphs">pvalue&lt;0.05</text>
<text x="473.00" y="108.00" font-size="5.0" text-anchor="start" fill="#1a1a1a" textLength="45.60" lengthAdjust="spacingAndGlyphs">|log2FoldChange|&gt;0</text>
<rect x="473.4" y="111.30000000000001" width="6.6" height="22.999999999999982" fill="#f6f6f6"/>
<circle cx="476.7" cy="114.9" r="1.3" fill="#F8766D"/>
<text x="483.20" y="116.60" font-size="4.6" text-anchor="start" fill="#1a1a1a" textLength="17.82" lengthAdjust="spacingAndGlyphs" stroke="#1a1a1a" stroke-width="0.12">UP 3300</text>
<circle cx="476.7" cy="122.8" r="1.3" fill="#00BA38"/>
<text x="483.20" y="124.50" font-size="4.6" text-anchor="start" fill="#1a1a1a" textLength="26.07" lengthAdjust="spacingAndGlyphs" stroke="#1a1a1a" stroke-width="0.12">DOWN 3108</text>
<circle cx="476.7" cy="130.7" r="1.3" fill="#619CFF"/>
<text x="483.20" y="132.40" font-size="4.6" text-anchor="start" fill="#1a1a1a" textLength="20.97" lengthAdjust="spacingAndGlyphs" stroke="#1a1a1a" stroke-width="0.12">NO 23165</text>
<path d="M79.0 497.4L101.8 497.4L100.5 488.0L99.5 477.0L98.0 470.0L93.0 467.0L88.0 469.0L84.0 474.0L80.0 482.0Z" fill="#00BA38"/>
<line x1="52" y1="466" x2="77" y2="489.5" stroke="#00BA38" stroke-width="2.2" stroke-linecap="round"/>
<path d="M99.1 490.8h0M82.9 475.5h0M88.0 468.3h0M100.7 488.0h0M91.3 466.8h0M99.2 495.2h0M81.6 483.2h0M100.4 495.8h0M95.0 493.7h0M86.6 487.5h0M95.1 468.5h0M97.7 494.3h0M96.8 474.2h0M98.6 480.0h0M80.5 481.8h0M85.8 487.1h0M92.0 491.2h0M99.6 486.1h0M93.1 490.8h0M92.3 468.1h0M98.9 483.0h0M84.3 473.1h0M92.4 491.2h0M81.0 477.1h0M87.9 487.0h0M95.3 469.1h0M100.8 480.2h0M97.6 474.8h0M100.0 496.6h0M84.3 472.5h0M81.6 481.4h0M79.8 482.1h0M83.4 472.5h0M101.3 487.9h0M86.6 487.1h0M86.2 471.4h0M94.7 468.4h0M96.3 468.9h0M86.6 468.8h0M97.0 492.1h0M95.4 442.6h0M95.7 448.1h0M72.9 457.1h0M84.9 459.8h0M78.5 479.9h0M76.1 478.1h0M73.5 468.0h0M77.3 484.7h0M82.8 476.0h0M93.3 498.0h0M77.3 466.9h0M97.0 447.7h0M88.8 454.1h0M90.4 450.0h0M80.9 468.8h0M94.1 459.9h0M84.1 472.5h0M73.9 491.7h0M83.9 496.3h0M83.3 449.0h0M88.7 456.0h0M73.1 486.9h0M86.4 467.0h0M91.1 467.5h0M98.3 473.2h0M88.4 496.5h0M80.6 497.7h0M78.2 485.7h0M83.1 460.9h0M99.0 464.1h0M90.8 462.1h0M78.9 494.4h0M87.5 465.7h0M88.8 497.8h0M73.7 487.2h0M95.7 464.9h0M81.1 482.2h0M83.9 471.7h0M81.2 473.6h0M99.8 486.8h0M88.6 460.6h0M94.6 466.5h0M92.4 454.6h0M80.8 480.7h0M91.8 462.5h0M73.4 486.2h0M79.4 464.8h0M77.8 465.3h0M78.8 484.2h0M87.0 461.5h0M76.7 480.8h0M69.5 485.9h0M85.4 498.0h0M71.8 467.4h0M85.9 463.2h0M81.0 476.3h0M93.0 457.7h0M99.5 482.2h0M81.4 471.3h0M91.2 461.9h0M72.1 468.3h0M94.2 430.3h0M82.5 471.9h0M75.3 491.2h0M70.5 478.9h0M96.4 465.5h0M67.9 469.5h0M90.9 462.1h0M69.4 469.2h0M94.0 497.4h0M80.8 463.0h0M78.9 495.1h0M77.5 464.5h0M76.4 484.6h0M85.4 473.6h0M84.7 468.8h0M75.7 490.3h0M89.3 469.4h0M86.3 458.9h0M85.2 497.4h0M87.9 497.5h0M75.2 459.7h0M85.8 497.2h0M76.1 488.2h0M63.7 489.4h0M97.7 451.1h0M99.2 480.0h0M72.4 459.4h0M80.0 474.7h0M85.1 465.4h0M78.0 481.9h0M67.3 467.3h0M95.0 454.8h0M98.5 474.6h0M79.9 490.6h0M73.5 495.0h0M77.4 463.7h0M79.6 458.8h0M79.8 467.1h0M77.9 478.9h0M81.1 455.4h0M72.2 484.8h0M90.9 497.1h0M92.3 468.3h0M81.5 479.0h0M99.6 475.2h0M78.8 475.9h0M81.7 472.6h0M81.5 472.2h0M62.5 488.3h0M97.8 451.0h0M96.4 496.2h0M87.9 462.7h0M80.1 452.4h0M82.2 472.7h0M100.5 472.3h0M98.4 443.5h0M87.4 469.1h0M87.7 467.9h0M77.3 474.2h0M69.5 494.2h0M92.1 460.3h0M88.3 468.8h0M74.8 489.5h0M98.3 469.5h0M93.8 466.8h0M98.1 441.7h0M77.3 496.5h0M79.2 458.0h0M87.9 466.7h0M71.4 492.4h0M72.0 494.6h0M80.9 476.1h0M75.7 479.9h0M82.5 459.5h0M88.4 455.1h0M73.9 475.8h0M81.6 445.4h0M87.9 467.8h0M80.0 480.5h0M88.1 444.9h0M84.4 449.0h0M85.9 456.8h0M77.4 471.8h0M63.8 480.1h0M98.5 476.4h0M72.4 478.9h0M79.8 481.8h0M77.2 481.6h0M99.8 488.6h0M74.9 475.4h0M75.8 479.7h0M72.1 478.6h0M75.2 478.1h0M77.6 490.1h0M74.8 451.4h0M98.8 451.2h0M73.6 478.9h0M96.3 460.4h0M72.8 478.4h0M97.9 461.5h0M80.5 493.4h0M84.2 454.5h0M95.0 446.7h0M65.5 486.1h0M97.7 459.7h0M87.9 468.0h0M80.5 489.8h0M91.9 461.4h0M84.6 467.7h0M78.8 451.8h0M89.0 446.8h0M85.9 471.6h0M75.4 484.6h0M89.5 433.9h0M90.6 469.3h0M77.1 488.6h0M76.0 494.8h0M89.0 454.0h0M90.9 456.1h0M92.8 450.0h0M78.1 493.2h0M82.5 448.2h0M98.2 457.5h0M98.5 455.7h0M66.7 495.5h0M83.0 475.6h0M76.5 492.1h0M76.3 458.9h0M101.7 491.2h0M98.9 480.4h0M77.2 489.8h0M95.6 465.9h0M67.3 496.4h0M69.3 477.6h0M69.6 495.0h0M92.9 458.3h0M85.5 463.0h0M84.0 448.1h0M81.4 479.1h0M95.1 463.0h0M86.6 460.2h0M82.7 476.2h0M82.5 467.5h0M70.1 481.8h0M84.3 473.5h0M100.9 483.3h0M85.4 465.2h0M97.7 467.4h0M99.9 482.0h0M101.5 494.6h0M78.6 479.2h0M99.4 459.7h0M101.5 488.8h0M86.2 466.4h0M69.8 494.7h0M82.8 455.4h0M84.6 469.2h0M100.2 474.5h0M83.9 448.7h0M83.2 467.9h0M73.5 459.0h0M85.2 467.3h0M79.2 487.9h0M85.6 498.2h0M78.0 496.1h0M72.3 491.1h0M101.2 498.4h0M83.0 462.0h0M82.2 454.5h0M96.4 462.6h0M100.4 483.3h0M80.5 491.9h0M82.1 466.4h0M84.5 440.7h0M87.7 457.5h0M98.8 462.8h0M79.0 492.3h0M77.3 486.3h0M93.5 453.9h0M91.2 453.7h0M100.0 481.3h0M99.1 471.0h0M81.2 477.9h0M73.4 490.6h0M85.8 464.9h0M79.0 484.9h0M87.4 456.1h0M98.8 483.4h0M100.3 492.5h0M84.6 497.2h0M78.8 491.6h0M79.2 466.8h0M100.2 477.4h0M101.1 480.0h0M88.4 459.1h0M79.6 485.0h0M78.6 491.5h0M99.0 474.5h0M83.1 445.4h0M80.7 475.1h0M77.9 490.0h0M69.0 479.8h0M100.3 477.9h0M100.0 493.0h0M95.3 464.5h0M70.3 481.3h0M78.2 467.3h0M97.9 463.8h0M88.7 463.6h0M79.1 491.6h0M93.7 460.4h0M101.5 493.2h0M72.2 470.5h0M78.1 488.5h0M98.9 471.5h0M75.7 482.9h0M100.2 481.2h0M78.3 484.6h0M94.3 466.4h0M73.9 451.3h0M76.5 458.5h0M95.3 466.7h0M79.3 486.9h0M95.7 462.4h0M95.9 464.9h0M80.9 466.0h0M73.4 483.6h0M79.0 479.3h0M97.3 453.4h0M85.4 468.1h0M92.7 466.1h0M83.5 473.2h0M95.8 462.1h0M80.2 495.8h0M88.2 462.3h0M99.5 467.5h0M83.6 470.1h0M83.1 456.2h0M80.2 471.2h0M79.2 463.4h0M95.3 497.6h0M78.8 467.5h0M73.1 494.3h0M73.1 484.0h0M79.2 488.0h0M72.4 492.0h0M81.4 459.6h0M86.1 467.8h0M94.9 452.1h0M98.9 465.9h0M93.8 448.6h0M83.7 497.6h0M75.4 467.4h0M96.8 497.9h0M91.0 465.8h0M71.9 481.8h0M79.2 478.9h0M97.7 473.2h0M85.9 463.4h0M79.8 484.6h0M78.1 474.3h0M94.2 467.6h0M96.4 463.4h0M79.4 495.1h0M64.3 478.3h0M63.1 477.7h0M74.5 486.2h0M70.4 481.7h0M72.9 486.3h0M53.4 468.1h0M60.6 473.8h0M56.6 469.9h0M63.1 477.1h0M55.2 468.5h0M68.3 482.8h0M77.6 488.3h0M57.9 471.9h0M75.6 488.6h0M67.0 480.4h0M53.8 467.3h0M64.7 477.9h0M68.2 481.4h0M52.6 466.8h0M57.1 472.1h0M72.1 485.2h0M75.0 488.1h0M65.1 479.1h0M64.5 477.8h0M74.8 487.6h0M68.7 480.7h0M69.3 482.3h0M77.0 489.5h0M56.2 469.9h0M62.8 476.6h0M59.1 473.0h0M74.4 486.0h0M53.3 466.7h0M68.1 480.4h0M71.9 485.0h0M55.4 468.7h0M58.8 472.2h0M58.4 472.8h0M65.1 478.4h0M52.9 466.8h0M62.6 476.6h0M66.4 479.8h0M51.5 466.1h0M71.2 483.2h0M53.1 468.0h0M52.0 466.1h0M66.6 479.5h0M73.8 486.1h0M57.7 471.1h0M69.4 482.1h0M76.4 488.8h0M75.7 497.2h0M74.0 488.3h0M76.5 496.4h0M61.6 477.6h0M66.6 488.7h0M57.3 474.1h0M63.9 484.3h0M76.0 495.2h0M67.8 485.9h0M58.4 476.0h0M53.8 469.3h0M71.1 485.7h0M72.1 488.9h0M57.6 472.5h0M68.7 483.6h0M69.4 489.5h0M67.8 488.3h0M64.2 479.3h0M60.1 480.1h0M68.7 487.4h0M65.3 493.0h0M75.3 493.1h0M70.6 496.8h0M60.2 485.0h0M67.6 496.0h0M66.9 491.2h0M59.7 481.1h0M62.6 483.0h0M70.0 496.8h0M61.0 480.5h0M71.3 490.4h0M54.2 469.2h0M59.7 473.9h0M67.8 484.6h0M66.2 490.9h0M59.8 481.0h0M63.2 479.0h0M73.0 495.1h0M75.6 496.7h0M60.7 485.7h0M60.4 477.2h0M66.9 487.6h0M62.0 477.3h0M63.5 485.9h0M60.5 485.7h0M56.2 471.6h0M56.1 476.2h0M55.0 473.2h0M60.1 478.3h0M76.0 488.5h0M65.5 479.2h0M65.3 489.1h0M65.3 480.8h0M58.7 477.3h0M77.1 491.2h0M69.5 487.7h0M71.5 486.5h0M64.9 479.9h0M67.2 488.3h0M53.1 469.2h0M65.2 481.7h0M64.0 487.2h0M62.3 477.6h0M62.9 477.9h0M61.1 483.6h0M69.3 490.6h0M66.3 492.3h0M70.1 485.5h0M59.7 482.1h0M65.2 479.6h0M56.9 475.5h0M67.2 484.9h0M68.1 482.2h0M60.9 480.8h0M67.8 484.4h0M68.3 486.7h0M65.1 488.2h0M76.0 496.6h0M60.6 475.0h0M66.8 482.7h0M64.0 484.3h0M68.1 490.9h0M63.5 482.8h0M53.7 469.2h0M70.8 492.3h0M69.3 483.7h0M75.4 497.1h0M68.5 483.6h0M63.3 485.4h0M67.1 481.0h0M67.4 495.1h0M71.2 496.6h0M75.8 495.2h0M67.8 494.1h0M70.6 486.6h0M67.6 483.7h0M68.4 485.4h0M77.3 492.8h0M63.5 484.3h0M68.1 496.2h0M69.4 494.4h0M66.9 493.2h0M61.4 482.3h0M70.7 491.2h0M68.9 493.0h0M65.7 487.4h0M62.7 487.9h0M72.1 496.9h0M74.1 494.5h0M62.6 477.3h0M73.1 496.3h0M72.6 494.5h0M77.7 495.9h0M64.1 491.1h0M64.0 481.2h0M66.4 482.6h0M61.7 477.4h0M73.9 491.9h0M65.9 482.4h0M69.7 487.6h0M66.5 482.8h0M68.2 485.4h0M74.9 493.3h0M69.6 487.0h0M68.2 484.6h0M59.8 475.5h0M73.7 491.5h0M64.3 480.9h0M74.4 492.9h0M67.8 484.9h0M57.9 472.7h0M66.5 483.7h0M73.3 495.8h0M69.4 490.1h0M65.5 484.7h0M70.0 490.3h0M71.6 494.0h0M71.5 494.2h0M71.3 493.9h0M64.7 483.7h0M69.8 490.7h0M72.8 496.0h0M69.2 489.5h0M66.5 485.4h0M73.0 360.6h0M81.4 382.2h0M83.0 384.6h0M74.0 419.0h0M79.0 419.0h0M90.0 416.0h0M78.0 428.0h0M83.0 433.6h0M89.0 431.0h0M90.0 429.0h0M82.0 444.0h0M84.0 442.4h0M89.0 443.0h0M93.0 443.0h0M77.0 444.0h0M69.0 454.0h0M75.0 454.4h0M48.0 459.4h0M71.6 461.0h0M47.2 459.6h0M53.7 482.6h0M54.3 486.0h0M47.6 493.0h0M53.8 496.7h0M63.0 484.0h0M65.0 488.6h0M68.0 495.3h0M60.0 496.0h0M57.0 491.0h0" stroke="#00BA38" stroke-width="2.0" stroke-linecap="round" fill="none"/>
<path d="M104.5 497.4L127.0 497.4L126.0 488.0L122.0 478.0L118.0 470.0L113.0 466.0L109.0 467.0L106.5 475.0L105.0 487.0Z" fill="#F8766D"/>
<line x1="125" y1="494" x2="153.8" y2="467" stroke="#F8766D" stroke-width="2.2" stroke-linecap="round"/>
<path d="M115.3 492.0h0M119.6 473.9h0M126.1 489.8h0M120.1 494.3h0M106.2 488.8h0M126.2 490.9h0M106.8 475.0h0M107.2 475.2h0M111.1 488.9h0M112.5 489.3h0M108.0 469.5h0M115.0 469.4h0M125.4 486.5h0M111.6 491.0h0M126.7 489.8h0M106.9 474.1h0M120.2 475.6h0M104.3 483.5h0M120.9 478.5h0M123.1 482.3h0M125.2 497.2h0M108.5 470.5h0M124.6 483.7h0M116.7 492.6h0M126.9 496.6h0M119.7 474.8h0M104.7 485.3h0M126.2 496.6h0M105.3 485.6h0M109.9 489.0h0M106.5 475.2h0M125.0 485.1h0M106.3 472.5h0M105.1 479.1h0M113.4 466.5h0M126.8 493.1h0M115.1 468.9h0M107.1 473.4h0M123.2 480.0h0M128.0 497.5h0M116.8 458.4h0M109.1 467.5h0M123.7 465.4h0M128.6 493.5h0M122.3 480.5h0M115.2 453.3h0M117.2 461.9h0M117.1 448.8h0M105.8 492.0h0M110.1 453.7h0M129.9 457.2h0M120.1 473.0h0M119.3 458.9h0M123.1 475.7h0M119.8 472.0h0M115.7 451.4h0M109.3 467.0h0M110.9 464.4h0M112.6 462.7h0M114.0 464.6h0M127.4 489.3h0M117.1 497.2h0M125.0 446.9h0M108.7 469.0h0M122.4 452.6h0M110.4 462.5h0M121.1 476.2h0M106.9 471.3h0M120.5 475.1h0M113.7 462.9h0M131.3 474.0h0M125.6 468.8h0M121.3 473.5h0M128.9 471.2h0M104.7 493.7h0M120.8 456.4h0M106.1 488.7h0M117.1 455.4h0M106.7 470.1h0M110.8 455.0h0M125.6 495.9h0M127.0 466.6h0M124.3 453.2h0M118.3 471.8h0M121.9 472.1h0M105.3 490.2h0M114.0 467.8h0M125.4 471.9h0M116.6 457.4h0M106.3 479.8h0M110.7 457.8h0M123.6 451.8h0M118.3 496.2h0M135.2 462.8h0M103.9 493.5h0M124.9 487.8h0M126.8 465.6h0M116.0 465.6h0M105.3 483.9h0M112.8 451.3h0M126.4 486.8h0M123.5 465.5h0M105.6 484.5h0M126.4 482.1h0M123.7 465.4h0M118.3 464.6h0M110.8 449.9h0M105.7 491.2h0M120.6 474.2h0M109.9 465.2h0M118.1 451.8h0M129.8 472.1h0M115.7 458.8h0M113.6 447.9h0M126.7 488.8h0M120.3 477.0h0M130.0 483.6h0M104.9 492.1h0M126.9 477.5h0M123.8 471.6h0M127.0 481.3h0M118.4 455.9h0M130.0 475.7h0M113.9 455.1h0M114.7 458.4h0M121.4 465.4h0M105.8 465.6h0M117.9 496.8h0M115.6 467.9h0M108.4 472.5h0M120.1 476.6h0M127.5 486.9h0M121.9 476.4h0M126.5 482.1h0M123.9 469.0h0M115.0 459.8h0M109.4 467.6h0M123.5 458.1h0M111.4 461.1h0M118.4 461.7h0M109.3 466.1h0M120.6 473.3h0M109.3 464.0h0M112.3 448.7h0M117.7 446.8h0M116.0 465.6h0M125.4 471.5h0M127.5 470.6h0M110.9 465.3h0M105.4 494.2h0M116.4 466.3h0M107.6 461.7h0M111.6 465.7h0M121.6 468.5h0M119.2 458.8h0M106.8 451.2h0M122.5 496.9h0M105.7 475.6h0M121.1 496.8h0M111.4 465.7h0M106.0 472.8h0M114.5 449.3h0M121.9 466.0h0M133.8 457.1h0M113.6 463.1h0M120.6 466.3h0M107.4 453.3h0M103.9 494.3h0M107.0 478.6h0M130.8 487.8h0M119.9 468.5h0M122.5 482.5h0M107.2 463.5h0M122.5 466.8h0M112.8 462.9h0M105.8 488.4h0M110.3 461.9h0M117.6 458.9h0M111.5 459.4h0M115.6 439.1h0M127.8 471.6h0M137.1 468.1h0M128.8 486.5h0M123.8 473.4h0M108.3 459.0h0M116.8 460.6h0M106.7 474.3h0M119.9 470.8h0M124.4 482.2h0M113.6 464.5h0M114.5 443.4h0M132.3 472.0h0M104.5 490.4h0M126.2 456.9h0M107.3 498.0h0M126.6 478.0h0M121.6 475.3h0M105.2 493.7h0M119.1 468.2h0M122.7 451.9h0M110.9 466.1h0M115.8 456.3h0M118.8 454.5h0M118.8 497.4h0M115.6 445.9h0M125.3 481.4h0M105.6 491.6h0M120.4 457.1h0M106.7 463.8h0M120.9 459.9h0M113.3 455.1h0M123.8 481.8h0M124.1 475.3h0M129.6 478.6h0M118.2 462.9h0M126.2 478.3h0M105.5 472.9h0M118.5 497.3h0M126.8 476.4h0M120.3 497.7h0M110.9 448.4h0M130.8 451.9h0M106.5 475.8h0M129.8 481.1h0M113.1 460.2h0M110.0 457.9h0M123.0 476.9h0M120.3 469.8h0M105.8 480.3h0M124.7 485.4h0M107.7 475.5h0M117.7 457.7h0M129.5 473.2h0M106.1 483.0h0M121.1 468.8h0M113.5 461.8h0M125.7 486.1h0M122.0 469.2h0M105.9 490.9h0M115.7 463.2h0M122.3 452.7h0M105.2 471.2h0M108.7 453.0h0M119.9 469.6h0M107.1 478.9h0M119.1 496.2h0M116.0 467.2h0M121.6 455.8h0M123.2 475.6h0M120.8 475.0h0M122.3 479.7h0M114.0 497.1h0M121.1 458.6h0M111.2 464.5h0M117.0 454.3h0M118.4 464.9h0M124.6 497.0h0M114.9 462.4h0M106.9 441.2h0M117.1 462.3h0M123.8 443.4h0M120.4 475.0h0M119.5 454.0h0M105.3 483.2h0M120.7 471.0h0M125.6 474.5h0M116.5 497.5h0M105.4 464.3h0M117.5 471.2h0M115.4 465.6h0M121.6 478.8h0M131.2 474.5h0M125.8 468.5h0M128.3 495.2h0M107.6 468.8h0M106.1 477.9h0M103.9 493.2h0M118.6 465.7h0M123.6 473.9h0M122.2 480.2h0M126.4 479.0h0M122.2 476.7h0M126.6 490.0h0M122.8 475.3h0M105.1 489.0h0M122.6 462.1h0M129.6 492.4h0M123.4 496.3h0M126.3 490.1h0M129.7 465.6h0M127.4 480.6h0M117.5 457.3h0M123.6 473.9h0M122.3 478.8h0M124.5 452.7h0M123.5 474.0h0M118.0 461.9h0M124.8 483.9h0M114.7 462.3h0M121.7 466.8h0M121.3 460.8h0M115.9 497.7h0M141.6 476.6h0M144.2 476.0h0M141.9 478.2h0M131.1 488.2h0M130.1 489.9h0M143.4 476.6h0M134.3 485.1h0M144.7 474.6h0M129.8 489.3h0M128.4 490.6h0M127.5 490.6h0M133.7 485.0h0M145.9 474.3h0M125.5 494.4h0M131.1 488.9h0M134.9 484.5h0M152.7 467.6h0M135.9 483.9h0M143.8 477.6h0M139.7 479.5h0M132.4 485.6h0M140.5 478.8h0M140.7 478.4h0M129.0 489.1h0M126.3 491.3h0M154.1 466.8h0M133.0 485.1h0M142.7 476.6h0M132.7 486.4h0M148.1 472.4h0M149.7 470.4h0M135.9 484.1h0M148.3 472.6h0M134.0 485.2h0M145.4 473.4h0M147.1 474.0h0M133.4 486.6h0M125.4 492.2h0M152.3 468.4h0M124.7 495.2h0M141.1 479.2h0M132.1 487.7h0M140.6 479.0h0M136.2 482.3h0M135.7 483.6h0M143.7 476.5h0M127.7 490.7h0M137.3 482.0h0M154.2 466.4h0M130.1 489.3h0M126.0 481.4h0M129.7 487.6h0M126.9 481.4h0M140.5 473.4h0M138.2 473.4h0M127.0 482.6h0M140.1 477.1h0M150.1 468.5h0M126.6 483.9h0M137.4 474.9h0M125.6 479.0h0M140.6 469.1h0M127.0 491.1h0M126.5 478.4h0M146.3 472.7h0M129.1 471.9h0M151.3 467.3h0M127.2 485.4h0M141.3 477.8h0M131.3 480.8h0M129.7 480.5h0M141.3 475.9h0M141.2 473.1h0M133.3 470.3h0M143.5 472.1h0M127.2 481.7h0M143.8 475.3h0M143.2 469.0h0M128.8 478.6h0M138.8 475.7h0M146.8 470.9h0M135.7 471.2h0M127.2 476.2h0M128.8 488.4h0M146.5 470.5h0M143.0 473.2h0M131.0 485.7h0M139.6 477.9h0M126.8 491.2h0M143.6 472.7h0M136.9 471.1h0M124.7 484.9h0M132.5 484.8h0M149.6 469.0h0M123.4 472.7h0M139.6 475.2h0M126.9 482.2h0M134.7 480.3h0M137.5 474.0h0M125.0 481.4h0M142.9 470.4h0M132.0 485.3h0M140.9 477.7h0M128.3 478.9h0M131.3 477.8h0M125.4 487.6h0M130.9 487.4h0M128.7 485.2h0M133.0 485.4h0M141.9 476.4h0M133.4 473.8h0M127.3 471.4h0M126.0 490.1h0M141.0 477.8h0M129.8 483.8h0M123.7 474.1h0M133.5 481.6h0M134.8 472.2h0M131.6 479.0h0M127.9 487.1h0M144.1 474.6h0M139.3 469.8h0M140.6 476.2h0M142.4 472.2h0M125.4 486.6h0M130.1 475.9h0M125.3 485.4h0M126.3 486.9h0M135.7 478.5h0M129.6 485.8h0M125.5 473.5h0M122.4 477.6h0M149.0 468.4h0M141.5 468.8h0M127.2 477.2h0M142.6 476.5h0M133.8 480.1h0M127.9 483.6h0M134.4 471.9h0M130.0 480.8h0M136.7 479.0h0M124.9 472.6h0M125.6 483.5h0M125.8 478.8h0M138.6 474.8h0M144.9 472.7h0M129.8 476.3h0M129.1 480.6h0M127.2 475.2h0M122.9 479.6h0M137.7 476.1h0M125.8 482.2h0M133.6 484.0h0M123.9 479.4h0M135.9 480.8h0M130.0 471.5h0M129.3 478.3h0M130.6 481.9h0M136.3 475.7h0M128.3 475.3h0M135.3 475.7h0M131.0 477.0h0M137.3 480.6h0M135.3 481.7h0M147.4 471.2h0M129.4 482.5h0M132.4 480.4h0M124.9 481.9h0M141.4 470.4h0M125.7 480.5h0M143.0 471.8h0M127.5 488.6h0M132.5 473.9h0M128.2 309.6h0M119.0 362.2h0M141.0 392.0h0M122.6 403.0h0M128.0 406.6h0M121.0 419.6h0M124.8 418.0h0M130.0 420.0h0M129.6 431.0h0M119.8 432.0h0M118.0 436.6h0M116.4 437.0h0M127.0 438.4h0M140.4 443.6h0M177.6 431.0h0M138.0 454.0h0M129.0 462.0h0M134.0 463.0h0M151.0 480.0h0M140.0 494.0h0M155.4 463.3h0M151.5 480.0h0" stroke="#F8766D" stroke-width="2.0" stroke-linecap="round" fill="none"/>
<path d="M74.0 497.6L130.5 497.6L128.0 499.4L115.0 500.6L103.0 501.1L90.0 500.7L80.0 499.8Z" fill="#619CFF"/>
<path d="M126.0 500.0h0M130.0 500.0h0M74.5 498.2h0" stroke="#619CFF" stroke-width="2.0" stroke-linecap="round" fill="none"/>
<line x1="102.8" y1="301.9" x2="102.8" y2="508" stroke="#a0a0a0" stroke-width="0.7" stroke-dasharray="2.8 2.5 0.7 2.5"/>
<line x1="40.4" y1="497.4" x2="198" y2="497.4" stroke="#a0a0a0" stroke-width="0.7" stroke-dasharray="2.8 2.5 0.7 2.5"/>
<path d="M40.4 300.4V508H193.6" stroke="#5c5c5c" stroke-width="1" fill="none"/>
<line x1="38.8" y1="324" x2="40.4" y2="324" stroke="#555" stroke-width="0.6"/>
<text x="37.80" y="325.60" font-size="4.4" text-anchor="end" fill="#3a3a3a">150</text>
<line x1="38.8" y1="382.4" x2="40.4" y2="382.4" stroke="#555" stroke-width="0.6"/>
<text x="37.80" y="384.00" font-size="4.4" text-anchor="end" fill="#3a3a3a">100</text>
<line x1="38.8" y1="440.4" x2="40.4" y2="440.4" stroke="#555" stroke-width="0.6"/>
<text x="37.80" y="442.00" font-size="4.4" text-anchor="end" fill="#3a3a3a">50</text>
<line x1="38.8" y1="497.4" x2="40.4" y2="497.4" stroke="#555" stroke-width="0.6"/>
<text x="37.80" y="499.00" font-size="4.4" text-anchor="end" fill="#3a3a3a">1.301</text>
<line x1="47" y1="508" x2="47" y2="509.6" stroke="#555" stroke-width="0.6"/>
<text x="47.00" y="513.60" font-size="4.4" text-anchor="middle" fill="#3a3a3a">−15</text>
<line x1="84" y1="508" x2="84" y2="509.6" stroke="#555" stroke-width="0.6"/>
<text x="84.00" y="513.60" font-size="4.4" text-anchor="middle" fill="#3a3a3a">−5</text>
<line x1="102.8" y1="508" x2="102.8" y2="509.6" stroke="#555" stroke-width="0.6"/>
<text x="102.80" y="513.60" font-size="4.4" text-anchor="middle" fill="#3a3a3a">0</text>
<line x1="118.2" y1="508" x2="118.2" y2="509.6" stroke="#555" stroke-width="0.6"/>
<text x="118.20" y="513.60" font-size="4.4" text-anchor="middle" fill="#3a3a3a">4</text>
<line x1="152" y1="508" x2="152" y2="509.6" stroke="#555" stroke-width="0.6"/>
<text x="152.00" y="513.60" font-size="4.4" text-anchor="middle" fill="#3a3a3a">13</text>
<line x1="186" y1="508" x2="186" y2="509.6" stroke="#555" stroke-width="0.6"/>
<text x="186.00" y="513.60" font-size="4.4" text-anchor="middle" fill="#3a3a3a">22</text>
<text x="86.10" y="296.90" font-size="6.2" text-anchor="start" fill="#1a1a1a" textLength="66.20" lengthAdjust="spacingAndGlyphs">PBC688_CK vs G29_CK</text>
<text x="98.60" y="521.80" font-size="5.2" text-anchor="start" fill="#1a1a1a" textLength="37.00" lengthAdjust="spacingAndGlyphs">log2FoldChange</text>
<text x="25.80" y="421.20" font-size="5.2" text-anchor="start" fill="#1a1a1a" textLength="33.90" lengthAdjust="spacingAndGlyphs" transform="rotate(-90 25.80 421.20)">-log10(pvalue)</text>
<text x="202.00" y="390.80" font-size="5.0" text-anchor="start" fill="#1a1a1a" textLength="28.00" lengthAdjust="spacingAndGlyphs">pvalue&lt;0.05</text>
<text x="202.00" y="396.40" font-size="5.0" text-anchor="start" fill="#1a1a1a" textLength="45.60" lengthAdjust="spacingAndGlyphs">|log2FoldChange|&gt;0</text>
<rect x="202.4" y="399.4" width="6.6" height="23.2" fill="#f6f6f6"/>
<circle cx="205.7" cy="403" r="1.3" fill="#F8766D"/>
<text x="212.20" y="404.70" font-size="4.6" text-anchor="start" fill="#1a1a1a" textLength="17.82" lengthAdjust="spacingAndGlyphs" stroke="#1a1a1a" stroke-width="0.12">UP 6183</text>
<circle cx="205.7" cy="411" r="1.3" fill="#00BA38"/>
<text x="212.20" y="412.70" font-size="4.6" text-anchor="start" fill="#1a1a1a" textLength="26.07" lengthAdjust="spacingAndGlyphs" stroke="#1a1a1a" stroke-width="0.12">DOWN 7030</text>
<circle cx="205.7" cy="419" r="1.3" fill="#619CFF"/>
<text x="212.20" y="420.70" font-size="4.6" text-anchor="start" fill="#1a1a1a" textLength="20.97" lengthAdjust="spacingAndGlyphs" stroke="#1a1a1a" stroke-width="0.12">NO 19186</text>
<path d="M372.0 491.8L396.6 491.8L394.8 480.0L393.5 468.0L390.5 465.0L384.0 465.0L377.0 465.0L371.0 462.0L366.0 457.0L361.0 450.0L357.5 448.0L358.0 453.0L362.0 463.0L366.0 473.0L369.0 482.0Z" fill="#00BA38"/>
<path d="M389.3 490.4h0M393.8 481.1h0M371.8 481.8h0M358.1 453.5h0M365.2 454.4h0M369.0 462.1h0M392.9 467.8h0M389.7 489.2h0M357.7 448.8h0M391.9 488.5h0M357.8 448.5h0M359.8 457.9h0M359.0 448.7h0M390.4 464.9h0M393.1 466.5h0M393.1 468.8h0M381.9 488.1h0M395.6 486.6h0M373.7 483.8h0M371.9 463.9h0M359.6 448.5h0M368.6 459.4h0M394.7 477.6h0M385.5 489.0h0M369.0 483.8h0M357.2 449.6h0M358.5 449.6h0M361.6 463.6h0M374.2 464.2h0M360.7 462.2h0M395.0 481.3h0M393.9 476.1h0M358.2 449.6h0M359.3 458.2h0M365.6 471.0h0M357.4 448.8h0M393.5 468.3h0M366.4 456.1h0M374.2 484.0h0M380.5 464.8h0M385.8 463.8h0M374.1 491.2h0M372.0 442.7h0M365.0 456.6h0M379.8 490.9h0M358.6 450.3h0M390.2 431.2h0M366.4 448.9h0M380.5 455.9h0M368.3 452.6h0M363.3 469.1h0M361.2 472.6h0M371.6 434.8h0M386.3 465.8h0M355.3 479.5h0M367.1 473.0h0M381.8 449.1h0M371.1 455.5h0M388.8 437.4h0M361.8 465.6h0M388.3 460.4h0M366.0 474.2h0M373.3 457.5h0M384.0 464.7h0M379.4 456.0h0M356.6 466.7h0M380.3 490.6h0M393.7 481.1h0M366.5 444.2h0M364.0 455.0h0M386.9 456.4h0M376.3 455.1h0M356.7 449.4h0M394.1 479.4h0M375.9 461.1h0M369.6 441.4h0M357.3 446.8h0M371.2 434.9h0M369.4 457.0h0M369.3 461.3h0M382.9 461.2h0M353.9 442.2h0M373.2 443.2h0M374.9 463.7h0M363.5 469.2h0M382.1 464.0h0M373.7 490.8h0M381.5 465.7h0M369.3 482.4h0M385.2 462.1h0M382.8 436.6h0M371.0 463.1h0M376.4 445.3h0M363.0 445.2h0M359.0 443.8h0M372.8 443.9h0M348.7 470.9h0M385.6 463.0h0M377.1 460.0h0M385.2 454.3h0M380.3 458.3h0M366.3 472.0h0M365.3 477.7h0M395.1 488.8h0M364.4 467.7h0M386.6 463.1h0M359.5 448.0h0M394.7 485.0h0M379.3 455.5h0M370.4 490.5h0M358.7 461.0h0M391.8 463.8h0M359.5 484.2h0M360.5 462.0h0M376.9 459.6h0M373.6 437.6h0M370.3 440.3h0M393.9 476.2h0M393.5 466.5h0M365.4 455.7h0M382.0 462.6h0M372.7 449.7h0M355.3 440.7h0M375.4 450.0h0M364.5 449.4h0M350.5 470.1h0M363.8 482.5h0M394.9 480.8h0M363.1 466.1h0M393.6 478.6h0M389.1 458.1h0M362.9 440.8h0M349.5 470.1h0M381.5 439.4h0M368.3 453.3h0M388.1 448.7h0M358.1 457.5h0M382.1 429.1h0M366.3 478.2h0M374.3 437.9h0M370.1 441.4h0M390.5 458.3h0M369.0 456.7h0M371.1 433.1h0M359.5 458.4h0M355.1 450.7h0M389.2 445.6h0M367.0 472.4h0M392.9 470.2h0M387.5 459.5h0M364.4 450.5h0M371.8 441.2h0M381.9 447.1h0M356.9 480.3h0M378.3 461.4h0M367.8 480.8h0M378.2 457.1h0M365.4 446.0h0M377.3 464.1h0M381.4 459.0h0M373.3 457.6h0M385.4 465.5h0M364.0 448.2h0M379.1 461.7h0M386.0 455.3h0M378.7 461.1h0M373.6 437.7h0M381.6 449.7h0M371.9 490.1h0M368.6 456.9h0M363.5 430.2h0M358.3 442.5h0M365.4 484.5h0M355.2 454.1h0M364.6 447.3h0M365.4 449.3h0M375.5 456.1h0M383.8 456.7h0M362.5 451.5h0M379.7 445.9h0M369.5 459.4h0M379.2 442.4h0M357.7 465.8h0M386.1 455.4h0M359.1 491.9h0M369.2 459.6h0M353.5 450.9h0M353.9 455.3h0M380.9 454.7h0M365.3 454.7h0M388.1 465.4h0M373.1 464.1h0M376.7 449.0h0M389.8 452.8h0M382.0 443.2h0M361.0 446.2h0M391.8 467.7h0M366.1 488.1h0M364.5 447.8h0M370.4 452.1h0M358.2 465.8h0M384.1 442.6h0M372.0 491.2h0M363.7 471.3h0M389.6 425.5h0M365.5 439.6h0M364.5 456.5h0M357.4 455.2h0M365.5 469.1h0M357.3 445.5h0M376.2 448.5h0M386.8 461.3h0M368.5 441.4h0M381.0 446.7h0M368.7 482.6h0M371.0 458.6h0M388.7 464.4h0M378.9 438.2h0M349.2 473.1h0M390.4 454.4h0M369.1 490.6h0M391.2 459.5h0M393.5 467.1h0M380.5 446.9h0M368.5 439.7h0M391.9 460.1h0M388.7 462.5h0M366.2 476.4h0M392.6 464.4h0M377.4 456.1h0M358.7 453.8h0M365.2 483.5h0M358.6 447.9h0M369.6 460.9h0M393.7 476.5h0M360.0 460.3h0M377.0 447.5h0M390.8 465.6h0M361.4 471.1h0M365.0 451.9h0M367.6 480.7h0M356.6 492.4h0M379.4 491.5h0M361.3 464.2h0M373.3 429.3h0M379.4 447.1h0M378.4 462.9h0M359.7 471.8h0M383.7 440.9h0M377.8 460.4h0M366.4 473.7h0M375.8 445.3h0M376.3 491.5h0M359.8 461.8h0M370.3 426.9h0M360.1 482.2h0M377.0 423.1h0M391.5 466.6h0M371.8 451.6h0M372.0 444.8h0M388.6 442.3h0M368.4 479.3h0M378.4 464.0h0M365.8 448.6h0M364.9 449.2h0M359.1 447.3h0M382.4 458.0h0M363.7 467.7h0M382.1 462.4h0M360.8 451.5h0M372.2 491.7h0M370.8 489.8h0M362.2 473.5h0M384.1 457.8h0M376.0 442.7h0M375.8 461.5h0M382.6 442.3h0M369.0 448.5h0M358.0 453.4h0M368.4 487.9h0M387.8 439.9h0M357.3 464.0h0M385.8 457.0h0M361.3 446.6h0M373.7 453.2h0M369.1 482.5h0M366.0 481.2h0M367.6 481.6h0M372.5 491.9h0M366.5 451.3h0M378.5 454.9h0M364.4 446.2h0M374.5 465.1h0M391.4 490.8h0M381.3 446.7h0M390.7 437.7h0M384.5 456.5h0M377.7 492.0h0M356.9 451.5h0M389.3 465.3h0M394.2 478.0h0M387.3 490.6h0M363.3 463.5h0M383.2 459.0h0M367.4 473.8h0M365.7 473.5h0M362.6 482.8h0M365.8 469.5h0M363.5 452.1h0M368.8 457.9h0M357.5 451.3h0M386.3 452.6h0M369.1 487.3h0M360.9 482.2h0M379.1 457.2h0M387.0 447.5h0M361.6 448.2h0M372.9 453.4h0M363.5 471.3h0M362.6 440.4h0M358.4 459.5h0M381.2 490.6h0M393.0 491.8h0M352.7 462.2h0M377.7 433.6h0M389.4 451.6h0M386.5 452.4h0M360.4 459.3h0M362.4 451.7h0M374.3 436.7h0M357.1 458.7h0M388.3 459.0h0M374.2 464.3h0M360.5 445.3h0M375.0 457.2h0M372.2 464.0h0M366.7 447.4h0M377.5 428.1h0M357.8 439.1h0M359.8 467.1h0M370.7 484.6h0M380.2 459.8h0M380.8 464.4h0M365.8 488.9h0M363.8 440.5h0M368.3 481.3h0M390.6 461.0h0M389.5 462.1h0M380.5 455.1h0M360.8 457.8h0M389.7 435.0h0M395.5 491.1h0M370.9 450.3h0M365.8 451.8h0M371.4 451.9h0M372.9 446.4h0M372.1 449.6h0M387.1 441.8h0M381.0 459.1h0M351.9 453.4h0M393.2 470.6h0M365.9 486.9h0M384.4 461.2h0M357.2 469.2h0M359.4 446.4h0M359.7 456.9h0M396.0 493.0h0M366.6 478.6h0M378.0 440.4h0M373.1 491.3h0M383.9 437.3h0M357.1 468.2h0M382.3 441.7h0M362.8 469.7h0M369.7 488.2h0M365.8 458.3h0M384.6 456.9h0M367.9 486.5h0M356.1 449.9h0M370.7 462.2h0M382.2 490.9h0M392.5 469.5h0M387.4 448.6h0M368.0 475.1h0M370.6 424.9h0M393.5 490.7h0M369.3 487.0h0M369.6 451.9h0M361.6 472.9h0M388.0 462.4h0M392.1 453.9h0M380.1 463.3h0M379.3 458.4h0M360.3 461.3h0M363.3 467.1h0M379.5 491.1h0M379.0 426.2h0M367.2 479.9h0M360.0 472.8h0M381.9 435.8h0M370.9 485.5h0M370.8 461.8h0M361.2 460.7h0M355.9 454.9h0M365.3 475.8h0M394.1 492.5h0M391.4 491.8h0M374.2 458.3h0M364.2 465.2h0M356.9 447.3h0M362.3 447.9h0M389.7 461.8h0M369.4 488.8h0M348.7 470.8h0M357.5 452.6h0M364.3 449.8h0M381.4 465.1h0M388.0 459.7h0M377.8 455.4h0M372.5 462.5h0M362.4 441.8h0M388.5 461.8h0M368.2 459.6h0M372.3 423.1h0M357.5 444.8h0M362.5 451.9h0M388.4 449.9h0M357.2 437.0h0M365.2 453.2h0M388.8 452.2h0M364.7 447.5h0M368.8 487.5h0M376.1 428.1h0M383.5 436.9h0M376.9 441.3h0M388.5 464.6h0M367.5 456.3h0M364.5 444.4h0M374.7 459.8h0M371.8 487.2h0M368.1 475.7h0M371.0 447.5h0M376.9 460.2h0M363.7 468.1h0M366.0 449.1h0M357.4 443.2h0M363.1 469.2h0M364.8 453.7h0M352.6 477.7h0M361.8 485.0h0M385.9 453.4h0M360.5 444.2h0M382.0 419.8h0M394.6 479.3h0M390.0 466.4h0M347.1 474.6h0M371.1 461.5h0M359.6 449.3h0M369.4 446.5h0M381.9 424.6h0M384.2 490.5h0M396.5 490.0h0M362.8 471.4h0M358.4 449.3h0M368.7 479.2h0M371.0 454.7h0M360.7 449.9h0M392.8 467.8h0M363.1 448.3h0M359.9 456.9h0M382.0 460.4h0M365.3 439.9h0M358.1 453.0h0M366.3 475.7h0M375.6 455.6h0M378.6 462.8h0M364.2 455.0h0M387.9 464.9h0M386.3 433.2h0M369.1 480.7h0M359.0 454.5h0M355.9 444.3h0M359.8 443.6h0M379.8 421.4h0M383.9 464.9h0M369.9 484.0h0M385.5 457.2h0M395.8 491.4h0M386.9 441.5h0M382.0 455.4h0M369.0 447.4h0M361.4 463.5h0M390.9 447.5h0M380.9 491.6h0M393.6 480.1h0M385.6 427.2h0M364.6 491.0h0M363.7 491.2h0M367.5 491.0h0M372.0 491.7h0M369.9 490.9h0M361.6 489.9h0M366.2 490.8h0M365.4 490.6h0M364.0 490.8h0M360.8 490.3h0M366.1 490.1h0M363.7 489.5h0M364.4 490.4h0M369.8 491.0h0M362.7 491.0h0M365.3 491.4h0M368.9 491.5h0M364.2 490.1h0M364.2 490.3h0M371.1 491.5h0M364.5 489.9h0M367.0 491.1h0M369.5 491.3h0M371.3 491.4h0M360.1 489.5h0M376.6 372.6h0M383.0 387.6h0M382.6 388.0h0M346.0 392.0h0M377.0 387.6h0M375.6 400.6h0M379.8 400.0h0M376.0 405.0h0M374.0 415.0h0M345.6 418.0h0M349.0 437.6h0M354.0 445.0h0M319.6 476.0h0M322.0 477.0h0M344.0 482.0h0M350.0 476.0h0M348.5 437.2h0M349.8 445.2h0M353.6 443.6h0M355.9 441.2h0M346.0 476.0h0M349.0 480.0h0M349.5 483.0h0M353.7 475.4h0M354.0 479.0h0M359.0 487.0h0M362.0 485.0h0M356.0 487.0h0M380.0 420.0h0M385.0 425.0h0M370.0 430.0h0M378.0 428.0h0M383.0 410.0h0M386.0 418.0h0" stroke="#00BA38" stroke-width="2.0" stroke-linecap="round" fill="none"/>
<path d="M398.0 492.0L419.0 492.0L421.0 486.0L424.0 478.0L423.0 472.0L419.0 468.0L414.0 466.0L409.0 466.0L404.0 468.0L401.0 476.0L399.3 484.0Z" fill="#F8766D"/>
<line x1="419" y1="490.5" x2="436.3" y2="451" stroke="#F8766D" stroke-width="2.2" stroke-linecap="round"/>
<path d="M403.6 467.1h0M407.4 466.8h0M401.4 477.4h0M402.1 484.5h0M412.6 465.6h0M424.0 478.6h0M419.0 467.5h0M404.5 486.8h0M401.8 484.9h0M412.5 465.0h0M401.7 484.5h0M422.7 477.4h0M420.8 470.0h0M423.1 472.1h0M419.3 469.3h0M412.5 466.7h0M411.6 488.9h0M416.1 466.3h0M416.7 490.1h0M406.0 467.5h0M405.2 467.4h0M406.7 468.0h0M415.8 467.7h0M418.3 492.2h0M403.1 468.9h0M420.9 487.0h0M410.4 489.3h0M416.5 467.7h0M402.3 470.4h0M422.7 472.4h0M403.3 470.8h0M406.5 466.5h0M420.9 485.3h0M420.1 470.7h0M418.3 491.6h0M422.7 481.1h0M400.3 479.9h0M418.4 490.6h0M406.9 465.9h0M422.6 472.5h0M403.7 461.9h0M419.3 487.0h0M408.8 461.0h0M421.6 485.5h0M427.0 471.7h0M423.5 464.2h0M427.3 452.5h0M408.6 460.2h0M427.0 475.1h0M408.4 459.3h0M410.9 464.4h0M426.5 481.7h0M408.1 447.9h0M420.0 488.8h0M408.4 459.1h0M411.2 491.7h0M416.3 431.3h0M425.1 458.8h0M420.0 451.4h0M416.8 451.5h0M419.4 464.4h0M404.9 468.8h0M425.0 478.4h0M403.3 466.4h0M412.4 451.2h0M423.4 454.5h0M417.9 466.4h0M402.9 469.4h0M420.1 461.6h0M416.0 456.6h0M421.9 454.4h0M416.2 465.3h0M407.0 465.1h0M405.9 460.1h0M420.1 463.9h0M426.1 473.7h0M420.2 466.6h0M408.7 490.8h0M402.1 493.4h0M404.7 462.4h0M422.7 466.2h0M425.2 473.0h0M422.1 487.2h0M399.3 489.3h0M403.3 464.0h0M422.1 452.5h0M411.9 448.5h0M423.8 464.9h0M419.2 461.3h0M421.0 441.9h0M422.3 482.8h0M403.0 465.6h0M422.2 466.4h0M423.9 465.3h0M410.8 467.1h0M423.0 481.7h0M416.5 491.1h0M424.2 467.8h0M412.2 464.7h0M417.2 491.1h0M423.4 492.7h0M422.0 465.2h0M421.1 488.5h0M417.7 462.1h0M412.5 458.9h0M416.7 490.9h0M419.5 437.9h0M412.2 465.1h0M405.9 462.0h0M423.3 465.6h0M417.5 465.7h0M414.4 451.8h0M407.0 463.1h0M406.2 460.7h0M405.3 467.4h0M424.4 471.3h0M423.3 468.3h0M419.9 487.6h0M428.4 474.0h0M404.6 467.7h0M424.2 436.5h0M424.3 466.2h0M421.1 483.0h0M418.9 464.1h0M411.8 450.8h0M420.2 450.6h0M416.2 461.3h0M429.7 473.7h0M422.2 480.1h0M420.5 461.5h0M416.9 468.3h0M422.0 468.3h0M411.9 460.2h0M413.6 459.0h0M410.6 457.8h0M417.1 462.2h0M410.8 466.5h0M414.2 459.9h0M416.0 459.5h0M423.6 467.3h0M425.2 492.0h0M406.3 463.2h0M428.2 458.2h0M417.9 463.5h0M423.1 481.5h0M409.5 460.9h0M419.7 464.5h0M419.4 487.3h0M422.8 467.3h0M424.1 469.7h0M422.6 483.5h0M411.6 461.1h0M423.0 477.3h0M423.3 475.4h0M418.1 464.7h0M424.9 469.4h0M413.6 458.2h0M412.4 463.0h0M419.7 460.9h0M413.4 455.6h0M422.1 485.7h0M409.7 430.8h0M404.3 468.6h0M426.4 463.5h0M413.8 462.0h0M426.6 474.6h0M423.5 482.7h0M414.4 451.2h0M418.2 462.9h0M413.6 445.3h0M413.7 465.4h0M422.0 484.9h0M427.7 476.2h0M404.7 465.0h0M418.3 466.2h0M421.0 461.8h0M399.7 487.6h0M422.3 470.9h0M420.8 434.2h0M416.6 464.2h0M418.7 447.2h0M413.4 462.2h0M408.8 465.2h0M413.7 457.0h0M407.0 467.9h0M420.7 438.1h0M406.8 468.1h0M411.4 465.2h0M418.2 462.8h0M421.7 481.6h0M418.0 444.8h0M429.5 460.4h0M410.6 451.8h0M420.7 452.4h0M404.3 467.4h0M419.5 468.3h0M424.2 485.8h0M418.0 451.4h0M406.1 464.4h0M424.3 471.4h0M408.4 462.4h0M419.3 469.8h0M413.4 456.3h0M409.0 463.3h0M425.9 474.1h0M405.1 460.2h0M417.9 438.4h0M421.3 452.6h0M404.1 469.6h0M423.7 475.2h0M409.1 463.4h0M411.5 442.6h0M407.4 491.1h0M422.9 463.1h0M427.6 471.8h0M420.0 470.8h0M423.1 477.8h0M424.4 490.2h0M419.9 489.5h0M412.6 441.7h0M409.9 451.7h0M414.6 459.4h0M422.5 482.7h0M405.5 467.8h0M408.3 444.9h0M418.8 451.8h0M427.0 469.4h0M416.9 459.2h0M425.9 464.3h0M420.3 490.1h0M406.8 491.7h0M404.2 492.5h0M408.5 492.0h0M424.3 478.8h0M426.9 460.1h0M406.3 459.0h0M410.4 444.8h0M407.9 446.3h0M430.5 466.6h0M414.7 462.2h0M421.9 481.8h0M418.6 465.7h0M419.2 468.3h0M424.5 464.8h0M418.2 449.4h0M408.3 442.4h0M424.0 477.7h0M428.1 470.0h0M424.3 478.5h0M405.4 441.2h0M407.8 462.8h0M400.4 484.1h0M420.5 450.0h0M418.3 452.8h0M410.2 453.7h0M403.0 467.8h0M413.5 467.0h0M407.9 446.9h0M407.7 461.7h0M417.7 491.2h0M410.5 437.8h0M400.6 479.2h0M424.9 467.2h0M404.1 471.3h0M419.9 470.0h0M422.2 462.5h0M408.6 464.8h0M424.8 463.0h0M418.6 461.7h0M418.4 452.1h0M409.9 461.5h0M416.9 457.8h0M415.2 431.9h0M412.7 466.6h0M420.9 450.3h0M406.4 457.5h0M424.6 476.3h0M425.7 476.6h0M423.4 478.8h0M420.4 469.5h0M424.8 473.6h0M427.3 472.3h0M418.8 457.2h0M418.1 467.3h0M425.2 448.2h0M417.2 465.8h0M414.8 453.5h0M430.2 463.0h0M424.5 477.3h0M433.4 456.9h0M424.3 477.8h0M434.9 456.1h0M428.3 468.2h0M427.1 473.6h0M422.5 481.8h0M422.6 482.4h0M435.0 452.3h0M431.3 462.5h0M427.1 472.8h0M425.0 476.1h0M421.3 486.9h0M429.7 465.9h0M431.6 461.3h0M435.4 453.2h0M420.7 487.5h0M431.7 459.0h0M424.9 476.2h0M434.1 456.7h0M427.9 470.9h0M424.1 479.5h0M431.0 464.0h0M421.3 483.9h0M434.0 454.5h0M420.8 484.1h0M427.4 471.9h0M425.0 475.3h0M434.0 456.6h0M428.5 468.7h0M435.5 452.2h0M429.8 466.2h0M420.5 488.5h0M425.9 474.1h0M429.1 468.0h0M426.0 475.2h0M419.4 488.5h0M424.9 475.8h0M429.5 468.0h0M435.8 451.5h0M434.3 455.1h0M434.1 456.5h0M420.6 488.0h0M429.4 465.7h0M425.2 475.3h0M421.9 483.3h0M434.3 453.1h0M427.1 472.2h0M434.0 457.1h0M419.6 489.3h0M425.4 476.5h0M434.1 458.0h0M426.3 476.8h0M433.8 457.7h0M422.2 481.6h0M434.1 455.8h0M434.1 455.4h0M423.6 480.2h0M434.0 456.9h0M423.0 481.8h0M425.8 471.8h0M423.0 479.9h0M428.7 466.8h0M422.6 482.2h0M424.2 473.7h0M427.9 463.5h0M423.1 482.3h0M427.7 468.0h0M425.4 469.7h0M424.1 469.2h0M425.6 472.7h0M425.3 477.0h0M422.9 477.3h0M425.4 475.3h0M424.8 473.5h0M424.9 474.1h0M421.8 485.9h0M426.2 470.8h0M422.3 480.6h0M423.8 475.4h0M427.3 465.1h0M424.2 469.4h0M428.8 466.8h0M423.8 478.2h0M426.5 472.1h0M426.8 464.4h0M424.5 472.4h0M423.3 478.7h0M425.1 471.9h0M429.5 462.9h0M427.1 471.9h0M424.2 467.8h0M426.0 473.9h0M423.8 478.5h0M424.7 474.6h0M423.0 305.4h0M423.0 357.6h0M421.6 382.0h0M422.0 384.0h0M421.0 388.0h0M412.0 403.0h0M422.0 404.0h0M424.6 407.6h0M411.0 408.0h0M416.0 410.0h0M429.0 412.6h0M452.0 404.6h0M439.0 443.0h0M444.0 485.0h0M422.0 493.5h0M425.0 493.0h0M430.0 491.6h0M434.0 492.0h0M410.0 420.0h0M415.0 425.0h0M405.0 430.0h0M418.0 418.0h0" stroke="#F8766D" stroke-width="2.0" stroke-linecap="round" fill="none"/>
<path d="M376.0 492.6L418.0 492.6L415.0 494.5L408.0 496.0L398.0 497.2L389.0 497.0L382.0 495.8L378.0 494.0Z" fill="#619CFF"/>
<path d="M376.5 493.0h0" stroke="#619CFF" stroke-width="2.0" stroke-linecap="round" fill="none"/>
<line x1="397.6" y1="297.5" x2="397.6" y2="504" stroke="#a0a0a0" stroke-width="0.7" stroke-dasharray="2.8 2.5 0.7 2.5"/>
<line x1="315.2" y1="492.4" x2="466" y2="492.4" stroke="#a0a0a0" stroke-width="0.7" stroke-dasharray="2.8 2.5 0.7 2.5"/>
<path d="M315.2 296V504H465" stroke="#5c5c5c" stroke-width="1" fill="none"/>
<line x1="312.2" y1="504" x2="315.2" y2="504" stroke="#5c5c5c" stroke-width="1"/>
<line x1="310.59999999999997" y1="325.6" x2="312.2" y2="325.6" stroke="#555" stroke-width="0.6"/>
<text x="309.60" y="327.20" font-size="4.4" text-anchor="end" fill="#3a3a3a">100</text>
<line x1="310.59999999999997" y1="410" x2="312.2" y2="410" stroke="#555" stroke-width="0.6"/>
<text x="309.60" y="411.60" font-size="4.4" text-anchor="end" fill="#3a3a3a">50</text>
<line x1="310.59999999999997" y1="492.4" x2="312.2" y2="492.4" stroke="#555" stroke-width="0.6"/>
<text x="309.60" y="494.00" font-size="4.4" text-anchor="end" fill="#3a3a3a">1.301</text>
<line x1="320" y1="504" x2="320" y2="505.6" stroke="#555" stroke-width="0.6"/>
<text x="320.00" y="509.60" font-size="4.4" text-anchor="middle" fill="#3a3a3a">−28</text>
<line x1="355.5" y1="504" x2="355.5" y2="505.6" stroke="#555" stroke-width="0.6"/>
<text x="355.50" y="509.60" font-size="4.4" text-anchor="middle" fill="#3a3a3a">−15</text>
<line x1="389.6" y1="504" x2="389.6" y2="505.6" stroke="#555" stroke-width="0.6"/>
<text x="389.60" y="509.60" font-size="4.4" text-anchor="middle" fill="#3a3a3a">−3</text>
<line x1="397.6" y1="504" x2="397.6" y2="505.6" stroke="#555" stroke-width="0.6"/>
<text x="397.60" y="509.60" font-size="4.4" text-anchor="middle" fill="#3a3a3a">0</text>
<line x1="423" y1="504" x2="423" y2="505.6" stroke="#555" stroke-width="0.6"/>
<text x="423.00" y="509.60" font-size="4.4" text-anchor="middle" fill="#3a3a3a">9</text>
<line x1="456.4" y1="504" x2="456.4" y2="505.6" stroke="#555" stroke-width="0.6"/>
<text x="456.40" y="509.60" font-size="4.4" text-anchor="middle" fill="#3a3a3a">21</text>
<text x="353.60" y="292.40" font-size="6.2" text-anchor="start" fill="#1a1a1a" textLength="77.80" lengthAdjust="spacingAndGlyphs">PBC688_14dci vs G29_14dci</text>
<text x="370.40" y="517.80" font-size="5.2" text-anchor="start" fill="#1a1a1a" textLength="37.00" lengthAdjust="spacingAndGlyphs">log2FoldChange</text>
<text x="297.00" y="416.50" font-size="5.2" text-anchor="start" fill="#1a1a1a" textLength="33.40" lengthAdjust="spacingAndGlyphs" transform="rotate(-90 297.00 416.50)">-log10(pvalue)</text>
<text x="473.00" y="382.80" font-size="5.0" text-anchor="start" fill="#1a1a1a" textLength="28.00" lengthAdjust="spacingAndGlyphs">pvalue&lt;0.05</text>
<text x="473.00" y="388.40" font-size="5.0" text-anchor="start" fill="#1a1a1a" textLength="45.60" lengthAdjust="spacingAndGlyphs">|log2FoldChange|&gt;0</text>
<rect x="473.4" y="395.0" width="6.6" height="22.799999999999965" fill="#f6f6f6"/>
<circle cx="476.7" cy="398.6" r="1.3" fill="#F8766D"/>
<text x="483.20" y="400.30" font-size="4.6" text-anchor="start" fill="#1a1a1a" textLength="17.82" lengthAdjust="spacingAndGlyphs" stroke="#1a1a1a" stroke-width="0.12">UP 6742</text>
<circle cx="476.7" cy="406.4" r="1.3" fill="#00BA38"/>
<text x="483.20" y="408.10" font-size="4.6" text-anchor="start" fill="#1a1a1a" textLength="26.07" lengthAdjust="spacingAndGlyphs" stroke="#1a1a1a" stroke-width="0.12">DOWN 8048</text>
<circle cx="476.7" cy="414.2" r="1.3" fill="#619CFF"/>
<text x="483.20" y="415.90" font-size="4.6" text-anchor="start" fill="#1a1a1a" textLength="20.97" lengthAdjust="spacingAndGlyphs" stroke="#1a1a1a" stroke-width="0.12">NO 17769</text>
<text x="136" y="276.3" font-size="14" text-anchor="middle" fill="#111" font-family='"Liberation Serif", serif'>(<tspan font-weight="bold">a</tspan>)</text>
<text x="407.4" y="276" font-size="14" text-anchor="middle" fill="#111" font-family='"Liberation Serif", serif'>(<tspan font-weight="bold">b</tspan>)</text>
<text x="136" y="553" font-size="14" text-anchor="middle" fill="#111" font-family='"Liberation Serif", serif'>(<tspan font-weight="bold">c</tspan>)</text>
<text x="407.4" y="553" font-size="14" text-anchor="middle" fill="#111" font-family='"Liberation Serif", serif'>(<tspan font-weight="bold">d</tspan>)</text>
<text x="136" y="776.5" font-size="14" text-anchor="middle" fill="#111" font-family='"Liberation Serif", serif'>(<tspan font-weight="bold">e</tspan>)</text>
<text x="407.5" y="776.5" font-size="14" text-anchor="middle" fill="#111" font-family='"Liberation Serif", serif'>(<tspan font-weight="bold">f</tspan>)</text>
<g transform="translate(162.93 679.71) scale(239.5 -237.5) rotate(45)"><ellipse rx="0.35" ry="0.2" fill="rgb(148,205,129)" fill-opacity="0.55"/></g>
<g transform="translate(91.07 679.71) scale(239.5 -237.5) rotate(135)"><ellipse rx="0.35" ry="0.2" fill="rgb(129,157,220)" fill-opacity="0.47"/></g>
<g transform="translate(127.00 655.96) scale(239.5 -237.5) rotate(135)"><ellipse rx="0.35" ry="0.15" fill="rgb(254,228,87)" fill-opacity="0.5"/></g>
<g transform="translate(127.00 655.96) scale(239.5 -237.5) rotate(45)"><ellipse rx="0.33" ry="0.15" fill="rgb(165,106,179)" fill-opacity="0.36"/></g>
<text x="90.30" y="610.30" font-size="6.4" text-anchor="middle" fill="#262626" stroke="#262626" stroke-width="0.2">1719</text>
<text x="161.50" y="609.80" font-size="6.4" text-anchor="middle" fill="#262626" stroke="#262626" stroke-width="0.2">2664</text>
<text x="80.00" y="633.80" font-size="6.4" text-anchor="middle" fill="#262626" stroke="#262626" stroke-width="0.2">1399</text>
<text x="125.60" y="629.00" font-size="6.4" text-anchor="middle" fill="#262626" stroke="#262626" stroke-width="0.2">2210</text>
<text x="171.70" y="634.30" font-size="6.4" text-anchor="middle" fill="#262626" stroke="#262626" stroke-width="0.2">1219</text>
<text x="49.00" y="655.40" font-size="6.4" text-anchor="middle" fill="#262626" stroke="#262626" stroke-width="0.2">4573</text>
<text x="102.50" y="655.40" font-size="6.4" text-anchor="middle" fill="#262626" stroke="#262626" stroke-width="0.2">49</text>
<text x="150.00" y="655.40" font-size="6.4" text-anchor="middle" fill="#262626" stroke="#262626" stroke-width="0.2">524</text>
<text x="202.70" y="655.60" font-size="6.4" text-anchor="middle" fill="#262626" stroke="#262626" stroke-width="0.2">842</text>
<text x="126.40" y="681.70" font-size="6.4" text-anchor="middle" fill="#262626" stroke="#262626" stroke-width="0.2">66</text>
<text x="83.00" y="693.90" font-size="6.4" text-anchor="middle" fill="#262626" stroke="#262626" stroke-width="0.2">0</text>
<text x="169.60" y="693.90" font-size="6.4" text-anchor="middle" fill="#262626" stroke="#262626" stroke-width="0.2">42</text>
<text x="108.50" y="703.60" font-size="6.4" text-anchor="middle" fill="#262626" stroke="#262626" stroke-width="0.2">10</text>
<text x="144.20" y="703.40" font-size="6.4" text-anchor="middle" fill="#262626" stroke="#262626" stroke-width="0.2">174</text>
<text x="126.00" y="726.80" font-size="6.4" text-anchor="middle" fill="#262626" stroke="#262626" stroke-width="0.2">423</text>
<text x="56.30" y="581.80" font-size="6.2" text-anchor="start" fill="#262626" textLength="66.60" lengthAdjust="spacingAndGlyphs" stroke="#262626" stroke-width="0.12">PBC688_CK vsG29_CK</text>
<text x="3.80" y="597.20" font-size="6.2" text-anchor="start" fill="#262626" textLength="63.10" lengthAdjust="spacingAndGlyphs" stroke="#262626" stroke-width="0.12">G29_14dci vs G29_CK</text>
<text x="141.30" y="581.80" font-size="6.2" text-anchor="start" fill="#262626" textLength="77.40" lengthAdjust="spacingAndGlyphs" stroke="#262626" stroke-width="0.12">PBC688_14dcivsG29_14dci</text>
<text x="171.40" y="597.20" font-size="6.2" text-anchor="start" fill="#262626" textLength="82.70" lengthAdjust="spacingAndGlyphs" stroke="#262626" stroke-width="0.12">PBC688_14dcivsPBC688_CK</text>
<g transform="translate(454.53 679.71) scale(239.5 -237.5) rotate(45)"><ellipse rx="0.35" ry="0.2" fill="rgb(148,205,129)" fill-opacity="0.55"/></g>
<g transform="translate(382.68 679.71) scale(239.5 -237.5) rotate(135)"><ellipse rx="0.35" ry="0.2" fill="rgb(129,157,220)" fill-opacity="0.47"/></g>
<g transform="translate(418.60 655.96) scale(239.5 -237.5) rotate(135)"><ellipse rx="0.35" ry="0.15" fill="rgb(254,228,87)" fill-opacity="0.5"/></g>
<g transform="translate(418.60 655.96) scale(239.5 -237.5) rotate(45)"><ellipse rx="0.33" ry="0.15" fill="rgb(165,106,179)" fill-opacity="0.36"/></g>
<text x="382.90" y="610.10" font-size="6.4" text-anchor="middle" fill="#262626" stroke="#262626" stroke-width="0.2">1685</text>
<text x="454.70" y="610.10" font-size="6.4" text-anchor="middle" fill="#262626" stroke="#262626" stroke-width="0.2">3792</text>
<text x="373.30" y="633.80" font-size="6.4" text-anchor="middle" fill="#262626" stroke="#262626" stroke-width="0.2">1785</text>
<text x="418.50" y="629.20" font-size="6.4" text-anchor="middle" fill="#262626" stroke="#262626" stroke-width="0.2">2651</text>
<text x="463.60" y="634.30" font-size="6.4" text-anchor="middle" fill="#262626" stroke="#262626" stroke-width="0.2">893</text>
<text x="342.00" y="655.40" font-size="6.4" text-anchor="middle" fill="#262626" stroke="#262626" stroke-width="0.2">3522</text>
<text x="394.90" y="655.40" font-size="6.4" text-anchor="middle" fill="#262626" stroke="#262626" stroke-width="0.2">290</text>
<text x="442.50" y="655.40" font-size="6.4" text-anchor="middle" fill="#262626" stroke="#262626" stroke-width="0.2">299</text>
<text x="495.00" y="655.60" font-size="6.4" text-anchor="middle" fill="#262626" stroke="#262626" stroke-width="0.2">887</text>
<text x="418.50" y="681.90" font-size="6.4" text-anchor="middle" fill="#262626" stroke="#262626" stroke-width="0.2">99</text>
<text x="375.80" y="694.10" font-size="6.4" text-anchor="middle" fill="#262626" stroke="#262626" stroke-width="0.2">1</text>
<text x="461.50" y="694.10" font-size="6.4" text-anchor="middle" fill="#262626" stroke="#262626" stroke-width="0.2">30</text>
<text x="400.70" y="703.50" font-size="6.4" text-anchor="middle" fill="#262626" stroke="#262626" stroke-width="0.2">23</text>
<text x="436.90" y="703.50" font-size="6.4" text-anchor="middle" fill="#262626" stroke="#262626" stroke-width="0.2">191</text>
<text x="418.50" y="727.20" font-size="6.4" text-anchor="middle" fill="#262626" stroke="#262626" stroke-width="0.2">686</text>
<text x="351.90" y="581.80" font-size="6.2" text-anchor="start" fill="#262626" textLength="67.70" lengthAdjust="spacingAndGlyphs" stroke="#262626" stroke-width="0.12">PBC688_CK vs G29_CK</text>
<text x="295.20" y="597.20" font-size="6.2" text-anchor="start" fill="#262626" textLength="63.40" lengthAdjust="spacingAndGlyphs" stroke="#262626" stroke-width="0.12">G29_14dci vs G29_CK</text>
<text x="429.90" y="581.80" font-size="6.2" text-anchor="start" fill="#262626" textLength="79.90" lengthAdjust="spacingAndGlyphs" stroke="#262626" stroke-width="0.12">PBC688_14dci vs G29_14dci</text>
<text x="462.10" y="597.20" font-size="6.2" text-anchor="start" fill="#262626" textLength="85.60" lengthAdjust="spacingAndGlyphs" stroke="#262626" stroke-width="0.12">PBC688_14dci vs PBC688_CK</text>
</svg></body></html>
